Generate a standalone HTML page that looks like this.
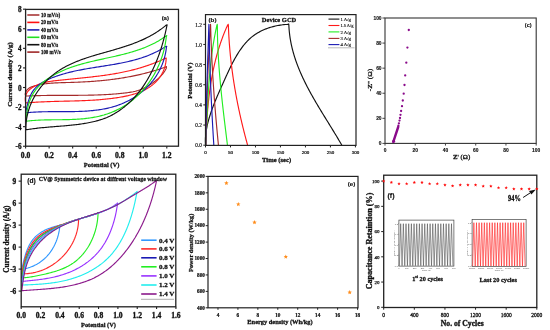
<!DOCTYPE html>
<html><head><meta charset="utf-8"><style>
html,body{margin:0;padding:0;background:#fff;width:550px;height:330px;overflow:hidden}
svg{display:block}
</style></head><body>
<svg width="550" height="330" viewBox="0 0 550 330">
<rect width="550" height="330" fill="#fff"/>
<rect x="385" y="18" width="151.2" height="125.4" fill="none" stroke="#333" stroke-width="1.1"/>
<line x1="385" y1="143.4" x2="385" y2="145.6" stroke="#333" stroke-width="0.9"/>
<text x="385" y="151.7" font-size="4.9" text-anchor="middle" font-family="'Liberation Sans',sans-serif" font-weight="bold" fill="#111" stroke="#111" stroke-width="0.13" stroke-linejoin="round">0</text>
<line x1="382.4" y1="143.4" x2="385" y2="143.4" stroke="#333" stroke-width="0.9"/>
<text x="381.6" y="145.1" font-size="4.9" text-anchor="end" font-family="'Liberation Sans',sans-serif" font-weight="bold" fill="#111" stroke="#111" stroke-width="0.13" stroke-linejoin="round">0</text>
<line x1="415.24" y1="143.4" x2="415.24" y2="145.6" stroke="#333" stroke-width="0.9"/>
<text x="415.24" y="151.7" font-size="4.9" text-anchor="middle" font-family="'Liberation Sans',sans-serif" font-weight="bold" fill="#111" stroke="#111" stroke-width="0.13" stroke-linejoin="round">20</text>
<line x1="382.4" y1="118.32" x2="385" y2="118.32" stroke="#333" stroke-width="0.9"/>
<text x="381.6" y="120.02" font-size="4.9" text-anchor="end" font-family="'Liberation Sans',sans-serif" font-weight="bold" fill="#111" stroke="#111" stroke-width="0.13" stroke-linejoin="round">20</text>
<line x1="445.48" y1="143.4" x2="445.48" y2="145.6" stroke="#333" stroke-width="0.9"/>
<text x="445.48" y="151.7" font-size="4.9" text-anchor="middle" font-family="'Liberation Sans',sans-serif" font-weight="bold" fill="#111" stroke="#111" stroke-width="0.13" stroke-linejoin="round">40</text>
<line x1="382.4" y1="93.24" x2="385" y2="93.24" stroke="#333" stroke-width="0.9"/>
<text x="381.6" y="94.94" font-size="4.9" text-anchor="end" font-family="'Liberation Sans',sans-serif" font-weight="bold" fill="#111" stroke="#111" stroke-width="0.13" stroke-linejoin="round">40</text>
<line x1="475.72" y1="143.4" x2="475.72" y2="145.6" stroke="#333" stroke-width="0.9"/>
<text x="475.72" y="151.7" font-size="4.9" text-anchor="middle" font-family="'Liberation Sans',sans-serif" font-weight="bold" fill="#111" stroke="#111" stroke-width="0.13" stroke-linejoin="round">60</text>
<line x1="382.4" y1="68.16" x2="385" y2="68.16" stroke="#333" stroke-width="0.9"/>
<text x="381.6" y="69.86" font-size="4.9" text-anchor="end" font-family="'Liberation Sans',sans-serif" font-weight="bold" fill="#111" stroke="#111" stroke-width="0.13" stroke-linejoin="round">60</text>
<line x1="505.96" y1="143.4" x2="505.96" y2="145.6" stroke="#333" stroke-width="0.9"/>
<text x="505.96" y="151.7" font-size="4.9" text-anchor="middle" font-family="'Liberation Sans',sans-serif" font-weight="bold" fill="#111" stroke="#111" stroke-width="0.13" stroke-linejoin="round">80</text>
<line x1="382.4" y1="43.08" x2="385" y2="43.08" stroke="#333" stroke-width="0.9"/>
<text x="381.6" y="44.78" font-size="4.9" text-anchor="end" font-family="'Liberation Sans',sans-serif" font-weight="bold" fill="#111" stroke="#111" stroke-width="0.13" stroke-linejoin="round">80</text>
<line x1="536.2" y1="143.4" x2="536.2" y2="145.6" stroke="#333" stroke-width="0.9"/>
<text x="536.2" y="151.7" font-size="4.9" text-anchor="middle" font-family="'Liberation Sans',sans-serif" font-weight="bold" fill="#111" stroke="#111" stroke-width="0.13" stroke-linejoin="round">100</text>
<line x1="382.4" y1="18" x2="385" y2="18" stroke="#333" stroke-width="0.9"/>
<text x="381.6" y="19.7" font-size="4.9" text-anchor="end" font-family="'Liberation Sans',sans-serif" font-weight="bold" fill="#111" stroke="#111" stroke-width="0.13" stroke-linejoin="round">100</text>
<text x="0" y="0" font-size="7.4" text-anchor="middle" font-family="'Liberation Serif',serif" font-weight="normal" fill="#111" transform="translate(371.7 80) rotate(-90) scale(1 0.78)" stroke="#111" stroke-width="0.32" stroke-linejoin="round">-<tspan font-weight="bold">Z</tspan>'' (&#937;)</text>
<text x="461.6" y="159.4" font-size="6.9" text-anchor="middle" font-family="'Liberation Serif',serif" font-weight="normal" fill="#111" stroke="#111" stroke-width="0.3" stroke-linejoin="round"><tspan font-weight="bold">Z</tspan>' (&#937;)</text>
<text x="528.2" y="27" font-size="5.6" text-anchor="middle" font-family="'Liberation Sans',sans-serif" font-weight="bold" fill="#111" stroke="#111" stroke-width="0.14" stroke-linejoin="round">(c)</text>
<circle cx="408.8" cy="30" r="1.15" fill="#8a0a8a"/>
<circle cx="407.4" cy="47.6" r="1.15" fill="#8a0a8a"/>
<circle cx="406.3" cy="62.7" r="1.15" fill="#8a0a8a"/>
<circle cx="405.2" cy="75.4" r="1.15" fill="#8a0a8a"/>
<circle cx="404.5" cy="85" r="1.15" fill="#8a0a8a"/>
<circle cx="403.7" cy="93.7" r="1.15" fill="#8a0a8a"/>
<circle cx="402.8" cy="100.5" r="1.15" fill="#8a0a8a"/>
<circle cx="402" cy="106.2" r="1.15" fill="#8a0a8a"/>
<circle cx="401.1" cy="111" r="1.15" fill="#8a0a8a"/>
<circle cx="400.5" cy="114.8" r="1.15" fill="#8a0a8a"/>
<circle cx="400" cy="118" r="1.15" fill="#8a0a8a"/>
<circle cx="399.5" cy="120.6" r="1.15" fill="#8a0a8a"/>
<circle cx="398.9" cy="123.3" r="1.15" fill="#8a0a8a"/>
<circle cx="398.4" cy="125.7" r="1.15" fill="#8a0a8a"/>
<path d="M398.2,127 L393.3,141.8" stroke="#8a0a8a" stroke-width="2.4" stroke-linecap="round"/>
<circle cx="393.6" cy="141.2" r="1.5" fill="#8a0a8a"/>
<path d="M25.6,95.8 L25.2,94.14 L25.48,92.89 L25.89,91.76 L26.43,90.77 L27.08,89.89 L27.83,89.11 L28.67,88.43 L29.59,87.83 L30.58,87.31 L31.62,86.85 L32.71,86.45 L33.83,86.1 L34.97,85.77 L36.12,85.48 L37.28,85.2 L38.45,84.95 L39.62,84.71 L40.8,84.49 L41.98,84.28 L43.17,84.1 L44.36,83.92 L45.56,83.77 L46.76,83.62 L47.96,83.49 L49.17,83.38 L50.38,83.27 L51.59,83.17 L52.81,83.09 L54.03,83.01 L55.25,82.94 L56.47,82.88 L57.69,82.82 L58.92,82.77 L60.15,82.73 L61.38,82.69 L62.61,82.65 L63.84,82.62 L65.07,82.58 L66.3,82.55 L67.53,82.52 L68.76,82.49 L69.98,82.45 L71.21,82.42 L72.44,82.38 L73.66,82.34 L74.89,82.3 L76.11,82.25 L77.33,82.2 L78.55,82.15 L79.77,82.1 L80.99,82.04 L82.21,81.98 L83.43,81.92 L84.64,81.85 L85.86,81.79 L87.07,81.72 L88.29,81.64 L89.5,81.56 L90.71,81.48 L91.92,81.4 L93.13,81.31 L94.34,81.22 L95.55,81.13 L96.75,81.03 L97.96,80.93 L99.16,80.82 L100.37,80.71 L101.57,80.6 L102.77,80.48 L103.97,80.36 L105.17,80.24 L106.37,80.11 L107.57,79.97 L108.77,79.84 L109.97,79.7 L111.16,79.55 L112.36,79.4 L113.55,79.25 L114.74,79.09 L115.94,78.92 L117.13,78.75 L118.32,78.58 L119.51,78.4 L120.7,78.22 L121.89,78.03 L123.08,77.84 L124.26,77.64 L125.45,77.44 L126.63,77.23 L127.82,77.02 L129,76.8 L130.19,76.58 L131.37,76.35 L132.55,76.12 L133.73,75.88 L134.91,75.63 L136.09,75.38 L137.27,75.13 L138.45,74.86 L139.62,74.6 L140.8,74.32 L141.98,74.04 L143.15,73.76 L144.33,73.46 L145.5,73.17 L146.67,72.86 L147.85,72.55 L149.02,72.23 L150.19,71.91 L151.36,71.58 L152.53,71.25 L153.7,70.9 L154.87,70.55 L156.04,70.2 L157.2,69.84 L158.37,69.47 L159.54,69.09 L160.7,68.71 L161.87,68.32 L163.03,67.92 L164.2,67.52 L165.36,67.1 L166.4,66.6 L166.36,67.94 L165.89,68.97 L165.37,69.98 L164.79,70.97 L164.16,71.93 L163.49,72.88 L162.78,73.81 L162.03,74.71 L161.24,75.6 L160.41,76.47 L159.56,77.33 L158.68,78.16 L157.77,78.98 L156.83,79.77 L155.88,80.55 L154.9,81.31 L153.9,82.05 L152.89,82.78 L151.87,83.48 L150.83,84.16 L149.78,84.83 L148.73,85.47 L147.67,86.1 L146.6,86.7 L145.52,87.28 L144.43,87.83 L143.34,88.36 L142.24,88.86 L141.13,89.33 L140.01,89.77 L138.88,90.17 L137.75,90.55 L136.6,90.89 L135.45,91.2 L134.29,91.48 L133.13,91.74 L131.95,91.97 L130.78,92.18 L129.6,92.37 L128.41,92.54 L127.22,92.71 L126.03,92.86 L124.84,93 L123.65,93.14 L122.45,93.27 L121.26,93.4 L120.06,93.52 L118.86,93.63 L117.66,93.75 L116.46,93.85 L115.26,93.95 L114.06,94.05 L112.86,94.14 L111.65,94.23 L110.45,94.31 L109.25,94.39 L108.04,94.46 L106.83,94.53 L105.63,94.6 L104.42,94.66 L103.21,94.72 L102,94.77 L100.79,94.83 L99.58,94.87 L98.37,94.92 L97.16,94.96 L95.95,95 L94.73,95.04 L93.52,95.07 L92.31,95.1 L91.09,95.13 L89.88,95.15 L88.66,95.18 L87.45,95.2 L86.23,95.22 L85.02,95.24 L83.8,95.25 L82.59,95.26 L81.37,95.28 L80.15,95.29 L78.94,95.3 L77.72,95.3 L76.5,95.31 L75.29,95.32 L74.07,95.32 L72.85,95.33 L71.64,95.33 L70.42,95.33 L69.2,95.33 L67.99,95.34 L66.77,95.34 L65.55,95.34 L64.34,95.34 L63.12,95.34 L61.9,95.35 L60.69,95.35 L59.47,95.35 L58.26,95.36 L57.04,95.36 L55.83,95.37 L54.62,95.37 L53.4,95.38 L52.19,95.39 L50.98,95.4 L49.76,95.41 L48.55,95.42 L47.34,95.44 L46.13,95.45 L44.92,95.47 L43.71,95.49 L42.5,95.51 L41.29,95.54 L40.09,95.57 L38.88,95.6 L37.67,95.63 L36.47,95.66 L35.26,95.7 L34.06,95.74 L32.86,95.78 L31.65,95.83 L30.45,95.88 L29.25,95.93 L28.05,95.99 L26.86,96.05 L25.6,95.8" fill="none" stroke="#a52a2a" stroke-width="1.15" stroke-linejoin="round" stroke-linecap="round"/>
<path d="M25.6,102.5 L25.43,101.2 L25.27,99.83 L25.25,98.51 L25.36,97.24 L25.59,96.03 L25.94,94.88 L26.39,93.78 L26.95,92.73 L27.6,91.75 L28.33,90.84 L29.15,89.98 L30.04,89.19 L30.98,88.46 L31.96,87.77 L32.96,87.13 L33.99,86.53 L35.03,85.96 L36.09,85.44 L37.16,84.95 L38.25,84.5 L39.36,84.08 L40.48,83.68 L41.61,83.32 L42.76,82.99 L43.92,82.68 L45.08,82.39 L46.26,82.13 L47.44,81.89 L48.64,81.66 L49.84,81.45 L51.05,81.26 L52.26,81.09 L53.48,80.92 L54.7,80.77 L55.92,80.62 L57.15,80.48 L58.37,80.35 L59.6,80.22 L60.83,80.09 L62.06,79.96 L63.28,79.84 L64.51,79.71 L65.73,79.59 L66.96,79.46 L68.18,79.34 L69.4,79.22 L70.62,79.1 L71.85,78.98 L73.07,78.86 L74.29,78.74 L75.51,78.62 L76.72,78.5 L77.94,78.37 L79.16,78.25 L80.37,78.13 L81.59,78.01 L82.8,77.88 L84.02,77.76 L85.23,77.63 L86.44,77.5 L87.65,77.37 L88.86,77.24 L90.07,77.1 L91.28,76.97 L92.49,76.83 L93.69,76.69 L94.9,76.55 L96.11,76.4 L97.31,76.26 L98.51,76.11 L99.71,75.95 L100.91,75.8 L102.11,75.64 L103.31,75.47 L104.51,75.31 L105.71,75.14 L106.9,74.96 L108.1,74.78 L109.29,74.6 L110.48,74.42 L111.68,74.22 L112.87,74.03 L114.06,73.83 L115.24,73.63 L116.43,73.42 L117.62,73.2 L118.8,72.98 L119.99,72.76 L121.17,72.53 L122.35,72.29 L123.53,72.05 L124.71,71.8 L125.89,71.55 L127.06,71.29 L128.24,71.02 L129.41,70.75 L130.59,70.47 L131.76,70.18 L132.93,69.89 L134.1,69.59 L135.26,69.28 L136.43,68.97 L137.6,68.65 L138.76,68.32 L139.92,67.98 L141.08,67.63 L142.24,67.28 L143.4,66.92 L144.56,66.55 L145.71,66.17 L146.87,65.79 L148.02,65.39 L149.17,64.99 L150.32,64.57 L151.47,64.15 L152.62,63.72 L153.76,63.28 L154.91,62.83 L156.05,62.37 L157.19,61.9 L158.33,61.42 L159.47,60.93 L160.61,60.43 L161.74,59.92 L162.88,59.4 L164.01,58.87 L165.14,58.33 L166.2,58 L166.14,59.02 L166.06,60.33 L165.93,61.61 L165.75,62.88 L165.52,64.13 L165.25,65.36 L164.94,66.57 L164.58,67.76 L164.18,68.92 L163.73,70.07 L163.25,71.2 L162.74,72.3 L162.18,73.38 L161.59,74.44 L160.97,75.47 L160.31,76.48 L159.62,77.47 L158.9,78.43 L158.15,79.36 L157.37,80.27 L156.57,81.16 L155.74,82.01 L154.88,82.84 L154.01,83.65 L153.11,84.42 L152.19,85.17 L151.25,85.89 L150.29,86.57 L149.32,87.24 L148.32,87.87 L147.31,88.48 L146.29,89.07 L145.24,89.63 L144.19,90.16 L143.12,90.68 L142.04,91.17 L140.94,91.64 L139.83,92.09 L138.71,92.52 L137.58,92.93 L136.44,93.32 L135.29,93.69 L134.13,94.05 L132.97,94.39 L131.8,94.71 L130.62,95.02 L129.43,95.31 L128.24,95.6 L127.05,95.86 L125.85,96.12 L124.65,96.37 L123.44,96.6 L122.23,96.83 L121.03,97.04 L119.82,97.25 L118.61,97.45 L117.4,97.64 L116.2,97.82 L114.99,98 L113.78,98.17 L112.57,98.34 L111.37,98.49 L110.16,98.64 L108.95,98.79 L107.75,98.92 L106.54,99.05 L105.33,99.18 L104.13,99.3 L102.92,99.42 L101.71,99.52 L100.51,99.63 L99.3,99.73 L98.09,99.82 L96.89,99.91 L95.68,100 L94.48,100.08 L93.27,100.15 L92.06,100.23 L90.86,100.29 L89.65,100.36 L88.45,100.42 L87.24,100.48 L86.03,100.53 L84.83,100.59 L83.62,100.64 L82.42,100.68 L81.21,100.73 L80,100.77 L78.8,100.81 L77.59,100.85 L76.38,100.88 L75.18,100.92 L73.97,100.95 L72.76,100.98 L71.56,101.01 L70.35,101.04 L69.14,101.07 L67.94,101.1 L66.73,101.13 L65.52,101.16 L64.32,101.18 L63.11,101.21 L61.9,101.24 L60.69,101.27 L59.49,101.3 L58.28,101.33 L57.07,101.36 L55.86,101.39 L54.65,101.42 L53.44,101.46 L52.23,101.5 L51.03,101.53 L49.82,101.57 L48.61,101.62 L47.4,101.66 L46.19,101.71 L44.98,101.76 L43.77,101.81 L42.56,101.87 L41.35,101.92 L40.14,101.99 L38.92,102.05 L37.71,102.12 L36.5,102.19 L35.29,102.27 L34.08,102.35 L32.86,102.44 L31.65,102.53 L30.44,102.62 L29.23,102.72 L28.01,102.83 L26.8,102.94 L25.6,102.5" fill="none" stroke="#ff1a1a" stroke-width="1.15" stroke-linejoin="round" stroke-linecap="round"/>
<path d="M25.6,112.6 L25.88,111.44 L26.14,110.29 L26.4,109.11 L26.66,107.93 L26.94,106.74 L27.22,105.54 L27.52,104.34 L27.84,103.14 L28.17,101.94 L28.53,100.75 L28.9,99.57 L29.31,98.41 L29.74,97.26 L30.2,96.13 L30.69,95.02 L31.22,93.94 L31.79,92.89 L32.4,91.87 L33.04,90.88 L33.74,89.94 L34.47,89.03 L35.24,88.15 L36.06,87.31 L36.9,86.5 L37.79,85.72 L38.7,84.98 L39.65,84.26 L40.62,83.57 L41.62,82.91 L42.64,82.27 L43.69,81.66 L44.76,81.07 L45.84,80.51 L46.95,79.97 L48.07,79.44 L49.2,78.94 L50.34,78.46 L51.49,77.99 L52.65,77.53 L53.82,77.1 L54.99,76.67 L56.16,76.26 L57.33,75.86 L58.5,75.47 L59.68,75.09 L60.85,74.73 L62.03,74.37 L63.2,74.02 L64.38,73.69 L65.56,73.36 L66.74,73.04 L67.92,72.73 L69.1,72.43 L70.28,72.14 L71.46,71.86 L72.65,71.58 L73.83,71.31 L75.01,71.05 L76.2,70.8 L77.39,70.55 L78.57,70.31 L79.76,70.07 L80.95,69.84 L82.13,69.61 L83.32,69.39 L84.51,69.17 L85.7,68.96 L86.89,68.75 L88.08,68.55 L89.27,68.35 L90.46,68.15 L91.65,67.95 L92.84,67.76 L94.04,67.57 L95.23,67.38 L96.42,67.19 L97.61,67 L98.81,66.81 L100,66.63 L101.19,66.44 L102.38,66.25 L103.58,66.06 L104.77,65.88 L105.96,65.69 L107.16,65.5 L108.35,65.3 L109.54,65.11 L110.73,64.91 L111.93,64.71 L113.12,64.51 L114.31,64.31 L115.5,64.1 L116.7,63.88 L117.89,63.66 L119.08,63.44 L120.27,63.21 L121.46,62.98 L122.65,62.74 L123.83,62.5 L125.02,62.25 L126.2,61.99 L127.39,61.73 L128.57,61.46 L129.75,61.18 L130.92,60.9 L132.1,60.6 L133.27,60.3 L134.44,59.99 L135.61,59.67 L136.78,59.34 L137.94,59.01 L139.1,58.66 L140.25,58.3 L141.4,57.93 L142.55,57.55 L143.7,57.16 L144.84,56.76 L145.98,56.35 L147.11,55.92 L148.24,55.48 L149.36,55.03 L150.48,54.57 L151.6,54.09 L152.71,53.6 L153.81,53.1 L154.91,52.58 L156.01,52.04 L157.1,51.5 L158.18,50.93 L159.26,50.36 L160.33,49.76 L161.4,49.15 L162.46,48.53 L163.51,47.88 L164.56,47.22 L165.6,46.54 L166.8,46.3 L166.4,47.42 L166.25,48.65 L166.09,49.87 L165.9,51.08 L165.69,52.29 L165.45,53.49 L165.2,54.69 L164.92,55.88 L164.62,57.06 L164.3,58.23 L163.95,59.4 L163.59,60.56 L163.2,61.71 L162.8,62.86 L162.37,63.99 L161.92,65.12 L161.45,66.24 L160.96,67.34 L160.45,68.44 L159.92,69.53 L159.37,70.61 L158.8,71.68 L158.2,72.73 L157.59,73.78 L156.96,74.81 L156.31,75.84 L155.64,76.85 L154.95,77.85 L154.24,78.83 L153.51,79.81 L152.77,80.77 L152.01,81.72 L151.23,82.66 L150.43,83.58 L149.62,84.49 L148.79,85.38 L147.94,86.27 L147.09,87.13 L146.21,87.99 L145.32,88.83 L144.42,89.65 L143.5,90.47 L142.57,91.26 L141.63,92.04 L140.68,92.81 L139.71,93.56 L138.73,94.29 L137.74,95.01 L136.74,95.72 L135.73,96.4 L134.71,97.08 L133.68,97.73 L132.65,98.37 L131.6,98.99 L130.54,99.59 L129.48,100.18 L128.41,100.75 L127.33,101.3 L126.24,101.83 L125.15,102.35 L124.06,102.85 L122.95,103.32 L121.85,103.79 L120.73,104.23 L119.61,104.66 L118.49,105.07 L117.36,105.46 L116.22,105.84 L115.09,106.2 L113.94,106.55 L112.79,106.88 L111.64,107.2 L110.48,107.51 L109.32,107.79 L108.16,108.07 L106.99,108.33 L105.81,108.58 L104.63,108.82 L103.45,109.04 L102.27,109.25 L101.08,109.45 L99.89,109.64 L98.7,109.82 L97.5,109.99 L96.3,110.14 L95.1,110.29 L93.89,110.43 L92.68,110.56 L91.47,110.67 L90.26,110.78 L89.04,110.89 L87.82,110.98 L86.61,111.06 L85.38,111.14 L84.16,111.21 L82.94,111.28 L81.71,111.34 L80.48,111.39 L79.26,111.43 L78.03,111.48 L76.8,111.51 L75.56,111.54 L74.33,111.57 L73.1,111.59 L71.87,111.61 L70.63,111.63 L69.4,111.64 L68.16,111.65 L66.93,111.65 L65.69,111.66 L64.46,111.66 L63.23,111.66 L61.99,111.66 L60.76,111.66 L59.53,111.66 L58.3,111.66 L57.07,111.66 L55.84,111.66 L54.61,111.66 L53.38,111.67 L52.16,111.67 L50.93,111.68 L49.71,111.68 L48.49,111.69 L47.27,111.71 L46.06,111.72 L44.84,111.74 L43.63,111.77 L42.42,111.8 L41.21,111.83 L40.01,111.87 L38.81,111.91 L37.61,111.96 L36.41,112.01 L35.22,112.07 L34.03,112.14 L32.84,112.21 L31.66,112.29 L30.48,112.38 L29.3,112.48 L28.13,112.58 L26.96,112.7 L25.6,112.6" fill="none" stroke="#1a1ab4" stroke-width="1.15" stroke-linejoin="round" stroke-linecap="round"/>
<path d="M25.6,121 L26.25,120.05 L26.32,118.78 L26.4,117.51 L26.5,116.25 L26.62,114.99 L26.77,113.74 L26.93,112.49 L27.12,111.25 L27.32,110.02 L27.55,108.8 L27.81,107.58 L28.09,106.38 L28.39,105.19 L28.72,104.01 L29.07,102.85 L29.45,101.7 L29.86,100.56 L30.29,99.44 L30.75,98.33 L31.24,97.24 L31.76,96.17 L32.3,95.12 L32.88,94.08 L33.49,93.07 L34.12,92.07 L34.79,91.1 L35.49,90.15 L36.21,89.22 L36.96,88.3 L37.74,87.41 L38.54,86.54 L39.37,85.68 L40.22,84.84 L41.09,84.03 L41.98,83.23 L42.9,82.45 L43.83,81.68 L44.78,80.94 L45.74,80.21 L46.72,79.5 L47.72,78.8 L48.73,78.12 L49.75,77.46 L50.78,76.81 L51.82,76.18 L52.88,75.56 L53.94,74.96 L55.01,74.38 L56.08,73.81 L57.17,73.25 L58.25,72.7 L59.34,72.17 L60.44,71.66 L61.54,71.15 L62.65,70.66 L63.76,70.18 L64.88,69.72 L66,69.26 L67.12,68.82 L68.25,68.39 L69.39,67.96 L70.52,67.55 L71.66,67.15 L72.81,66.76 L73.96,66.37 L75.11,66 L76.26,65.63 L77.42,65.27 L78.58,64.92 L79.75,64.58 L80.91,64.25 L82.08,63.92 L83.26,63.6 L84.43,63.28 L85.61,62.97 L86.79,62.67 L87.97,62.37 L89.15,62.08 L90.33,61.79 L91.52,61.51 L92.71,61.22 L93.9,60.95 L95.09,60.67 L96.28,60.4 L97.47,60.13 L98.66,59.87 L99.85,59.6 L101.05,59.34 L102.24,59.08 L103.44,58.82 L104.63,58.56 L105.83,58.3 L107.02,58.04 L108.22,57.78 L109.41,57.52 L110.6,57.26 L111.8,57 L112.99,56.73 L114.18,56.46 L115.37,56.2 L116.56,55.92 L117.75,55.65 L118.93,55.37 L120.12,55.09 L121.3,54.8 L122.48,54.51 L123.66,54.21 L124.84,53.91 L126.01,53.61 L127.19,53.3 L128.36,52.98 L129.53,52.65 L130.69,52.32 L131.85,51.98 L133.01,51.64 L134.17,51.28 L135.32,50.92 L136.47,50.55 L137.61,50.17 L138.76,49.79 L139.9,49.39 L141.03,48.98 L142.16,48.57 L143.29,48.14 L144.41,47.7 L145.53,47.25 L146.64,46.79 L147.75,46.32 L148.85,45.83 L149.95,45.34 L151.04,44.83 L152.13,44.31 L153.21,43.77 L154.29,43.22 L155.36,42.66 L156.43,42.08 L157.49,41.48 L158.54,40.88 L159.59,40.25 L160.63,39.61 L161.66,38.96 L162.69,38.29 L163.71,37.6 L164.73,36.89 L165.74,36.17 L166.8,35.6 L166.32,36.8 L166.18,37.98 L166.03,39.17 L165.86,40.35 L165.68,41.53 L165.49,42.72 L165.28,43.89 L165.05,45.07 L164.81,46.25 L164.56,47.42 L164.29,48.59 L164.01,49.76 L163.71,50.93 L163.4,52.09 L163.07,53.25 L162.73,54.41 L162.37,55.56 L162,56.71 L161.62,57.86 L161.22,59 L160.81,60.14 L160.38,61.27 L159.94,62.39 L159.48,63.52 L159.01,64.63 L158.53,65.75 L158.03,66.85 L157.52,67.95 L156.99,69.04 L156.45,70.13 L155.9,71.21 L155.33,72.29 L154.75,73.35 L154.15,74.41 L153.54,75.47 L152.92,76.51 L152.28,77.55 L151.63,78.58 L150.97,79.6 L150.29,80.61 L149.6,81.62 L148.9,82.61 L148.18,83.59 L147.45,84.57 L146.71,85.54 L145.96,86.49 L145.2,87.44 L144.42,88.37 L143.63,89.3 L142.83,90.21 L142.02,91.11 L141.19,92 L140.35,92.88 L139.51,93.75 L138.65,94.6 L137.78,95.44 L136.9,96.27 L136.01,97.09 L135.11,97.89 L134.2,98.68 L133.27,99.46 L132.34,100.22 L131.4,100.97 L130.44,101.71 L129.48,102.42 L128.51,103.13 L127.53,103.82 L126.54,104.49 L125.54,105.15 L124.53,105.79 L123.51,106.42 L122.48,107.03 L121.44,107.63 L120.4,108.21 L119.35,108.77 L118.29,109.32 L117.22,109.85 L116.14,110.37 L115.06,110.87 L113.97,111.35 L112.87,111.82 L111.77,112.27 L110.66,112.71 L109.54,113.13 L108.42,113.53 L107.29,113.92 L106.16,114.29 L105.02,114.64 L103.87,114.99 L102.72,115.31 L101.56,115.62 L100.4,115.92 L99.24,116.2 L98.07,116.46 L96.9,116.72 L95.72,116.96 L94.54,117.18 L93.35,117.4 L92.16,117.6 L90.97,117.79 L89.77,117.97 L88.58,118.14 L87.38,118.29 L86.17,118.44 L84.97,118.57 L83.76,118.7 L82.55,118.81 L81.34,118.92 L80.13,119.01 L78.91,119.1 L77.7,119.18 L76.48,119.25 L75.26,119.32 L74.04,119.38 L72.82,119.43 L71.6,119.48 L70.38,119.52 L69.16,119.56 L67.93,119.59 L66.71,119.62 L65.49,119.64 L64.26,119.67 L63.04,119.68 L61.81,119.7 L60.59,119.72 L59.37,119.73 L58.15,119.74 L56.92,119.75 L55.7,119.77 L54.48,119.78 L53.26,119.79 L52.04,119.8 L50.82,119.82 L49.61,119.84 L48.39,119.86 L47.18,119.88 L45.97,119.91 L44.76,119.94 L43.55,119.97 L42.34,120.01 L41.14,120.05 L39.94,120.1 L38.74,120.16 L37.54,120.22 L36.35,120.29 L35.16,120.37 L33.97,120.45 L32.78,120.54 L31.6,120.64 L30.42,120.75 L29.25,120.87 L28.07,121 L26.91,121.14 L25.6,121" fill="none" stroke="#1ee61e" stroke-width="1.15" stroke-linejoin="round" stroke-linecap="round"/>
<path d="M25.6,129.6 L25.79,128.77 L25.81,127.48 L25.86,126.2 L25.93,124.93 L26.03,123.67 L26.15,122.41 L26.29,121.16 L26.46,119.92 L26.65,118.69 L26.87,117.46 L27.1,116.24 L27.36,115.03 L27.64,113.83 L27.94,112.64 L28.26,111.45 L28.61,110.27 L28.97,109.11 L29.36,107.95 L29.76,106.8 L30.19,105.66 L30.63,104.53 L31.1,103.41 L31.58,102.3 L32.08,101.2 L32.61,100.11 L33.15,99.03 L33.7,97.96 L34.28,96.9 L34.87,95.85 L35.49,94.81 L36.11,93.79 L36.76,92.77 L37.42,91.77 L38.1,90.78 L38.79,89.8 L39.5,88.83 L40.23,87.87 L40.97,86.93 L41.72,86 L42.49,85.08 L43.27,84.17 L44.07,83.28 L44.88,82.4 L45.71,81.53 L46.55,80.68 L47.4,79.84 L48.26,79.01 L49.14,78.2 L50.03,77.4 L50.93,76.61 L51.84,75.84 L52.77,75.09 L53.7,74.35 L54.65,73.62 L55.6,72.91 L56.57,72.21 L57.55,71.53 L58.53,70.86 L59.53,70.21 L60.53,69.58 L61.55,68.95 L62.57,68.35 L63.6,67.75 L64.64,67.17 L65.69,66.6 L66.74,66.05 L67.81,65.5 L68.88,64.97 L69.96,64.45 L71.04,63.94 L72.13,63.45 L73.23,62.96 L74.34,62.48 L75.45,62.02 L76.56,61.56 L77.68,61.11 L78.81,60.67 L79.94,60.24 L81.08,59.82 L82.22,59.4 L83.36,59 L84.51,58.59 L85.67,58.2 L86.82,57.81 L87.99,57.43 L89.15,57.05 L90.32,56.68 L91.48,56.32 L92.66,55.96 L93.83,55.6 L95.01,55.25 L96.18,54.9 L97.36,54.55 L98.54,54.21 L99.72,53.87 L100.91,53.53 L102.09,53.19 L103.27,52.85 L104.45,52.52 L105.64,52.19 L106.82,51.85 L108,51.52 L109.18,51.19 L110.36,50.85 L111.54,50.52 L112.72,50.18 L113.89,49.84 L115.07,49.5 L116.24,49.16 L117.41,48.81 L118.57,48.46 L119.74,48.11 L120.9,47.75 L122.05,47.4 L123.21,47.03 L124.36,46.66 L125.51,46.29 L126.66,45.91 L127.8,45.53 L128.94,45.14 L130.08,44.74 L131.21,44.34 L132.34,43.93 L133.46,43.51 L134.59,43.08 L135.7,42.65 L136.82,42.21 L137.93,41.76 L139.03,41.3 L140.13,40.84 L141.23,40.36 L142.32,39.88 L143.41,39.38 L144.49,38.87 L145.57,38.36 L146.64,37.83 L147.71,37.29 L148.77,36.74 L149.83,36.18 L150.89,35.6 L151.93,35.01 L152.97,34.41 L154.01,33.8 L155.04,33.17 L156.07,32.53 L157.09,31.88 L158.1,31.21 L159.11,30.52 L160.11,29.82 L161.1,29.11 L162.09,28.38 L163.07,27.63 L164.05,26.87 L165.02,26.09 L165.98,25.29 L167.1,24.8 L166.82,26.12 L166.59,27.26 L166.35,28.42 L166.1,29.57 L165.85,30.73 L165.59,31.88 L165.32,33.04 L165.05,34.2 L164.77,35.36 L164.48,36.52 L164.18,37.69 L163.88,38.85 L163.57,40.01 L163.25,41.18 L162.93,42.34 L162.59,43.51 L162.25,44.67 L161.9,45.83 L161.55,47 L161.18,48.16 L160.81,49.32 L160.43,50.47 L160.05,51.63 L159.65,52.79 L159.25,53.94 L158.83,55.09 L158.41,56.24 L157.98,57.38 L157.55,58.53 L157.1,59.67 L156.64,60.8 L156.18,61.94 L155.71,63.06 L155.23,64.19 L154.74,65.31 L154.24,66.43 L153.73,67.54 L153.21,68.65 L152.69,69.75 L152.15,70.85 L151.61,71.95 L151.05,73.03 L150.49,74.12 L149.92,75.19 L149.34,76.26 L148.74,77.33 L148.14,78.39 L147.53,79.44 L146.91,80.48 L146.28,81.52 L145.64,82.55 L144.98,83.57 L144.32,84.59 L143.65,85.6 L142.97,86.6 L142.28,87.59 L141.58,88.57 L140.86,89.55 L140.14,90.51 L139.4,91.47 L138.66,92.42 L137.9,93.36 L137.14,94.28 L136.36,95.2 L135.57,96.11 L134.77,97.01 L133.96,97.9 L133.14,98.78 L132.31,99.64 L131.47,100.5 L130.61,101.35 L129.75,102.18 L128.87,103 L127.98,103.81 L127.08,104.61 L126.16,105.4 L125.24,106.17 L124.31,106.93 L123.36,107.67 L122.4,108.41 L121.44,109.13 L120.46,109.83 L119.47,110.52 L118.47,111.19 L117.47,111.85 L116.45,112.49 L115.42,113.11 L114.38,113.72 L113.34,114.31 L112.28,114.88 L111.22,115.43 L110.14,115.97 L109.06,116.48 L107.97,116.98 L106.87,117.46 L105.77,117.91 L104.65,118.35 L103.53,118.77 L102.4,119.17 L101.26,119.55 L100.12,119.92 L98.97,120.27 L97.82,120.6 L96.66,120.92 L95.49,121.23 L94.32,121.52 L93.15,121.8 L91.97,122.06 L90.79,122.31 L89.6,122.55 L88.41,122.79 L87.22,123.01 L86.02,123.22 L84.83,123.42 L83.63,123.61 L82.43,123.8 L81.22,123.97 L80.02,124.14 L78.81,124.31 L77.61,124.46 L76.4,124.61 L75.19,124.76 L73.98,124.9 L72.77,125.03 L71.55,125.16 L70.34,125.28 L69.13,125.4 L67.91,125.52 L66.69,125.63 L65.48,125.74 L64.26,125.85 L63.04,125.95 L61.83,126.05 L60.61,126.15 L59.39,126.25 L58.17,126.35 L56.96,126.44 L55.74,126.54 L54.52,126.64 L53.31,126.73 L52.09,126.83 L50.88,126.93 L49.66,127.03 L48.45,127.13 L47.24,127.24 L46.03,127.34 L44.82,127.45 L43.61,127.57 L42.4,127.68 L41.19,127.8 L39.99,127.93 L38.79,128.05 L37.59,128.19 L36.39,128.33 L35.19,128.47 L33.99,128.62 L32.8,128.78 L31.61,128.95 L30.42,129.12 L29.23,129.29 L28.05,129.48 L26.87,129.68 L25.6,129.6" fill="none" stroke="#111111" stroke-width="1.15" stroke-linejoin="round" stroke-linecap="round"/>
<rect x="25.6" y="9.4" width="152.9" height="136.8" fill="none" stroke="#222" stroke-width="1.3"/>
<line x1="25.6" y1="146.2" x2="25.6" y2="148.5" stroke="#222" stroke-width="1.1"/>
<text x="25.6" y="157.7" font-size="7.6" text-anchor="middle" font-family="'Liberation Serif',serif" font-weight="bold" fill="#111" stroke="#111" stroke-width="0.33" stroke-linejoin="round">0.0</text>
<line x1="49.13" y1="146.2" x2="49.13" y2="148.5" stroke="#222" stroke-width="1.1"/>
<text x="49.13" y="157.7" font-size="7.6" text-anchor="middle" font-family="'Liberation Serif',serif" font-weight="bold" fill="#111" stroke="#111" stroke-width="0.33" stroke-linejoin="round">0.2</text>
<line x1="72.67" y1="146.2" x2="72.67" y2="148.5" stroke="#222" stroke-width="1.1"/>
<text x="72.67" y="157.7" font-size="7.6" text-anchor="middle" font-family="'Liberation Serif',serif" font-weight="bold" fill="#111" stroke="#111" stroke-width="0.33" stroke-linejoin="round">0.4</text>
<line x1="96.2" y1="146.2" x2="96.2" y2="148.5" stroke="#222" stroke-width="1.1"/>
<text x="96.2" y="157.7" font-size="7.6" text-anchor="middle" font-family="'Liberation Serif',serif" font-weight="bold" fill="#111" stroke="#111" stroke-width="0.33" stroke-linejoin="round">0.6</text>
<line x1="119.74" y1="146.2" x2="119.74" y2="148.5" stroke="#222" stroke-width="1.1"/>
<text x="119.74" y="157.7" font-size="7.6" text-anchor="middle" font-family="'Liberation Serif',serif" font-weight="bold" fill="#111" stroke="#111" stroke-width="0.33" stroke-linejoin="round">0.8</text>
<line x1="143.27" y1="146.2" x2="143.27" y2="148.5" stroke="#222" stroke-width="1.1"/>
<text x="143.27" y="157.7" font-size="7.6" text-anchor="middle" font-family="'Liberation Serif',serif" font-weight="bold" fill="#111" stroke="#111" stroke-width="0.33" stroke-linejoin="round">1.0</text>
<line x1="166.8" y1="146.2" x2="166.8" y2="148.5" stroke="#222" stroke-width="1.1"/>
<text x="166.8" y="157.7" font-size="7.6" text-anchor="middle" font-family="'Liberation Serif',serif" font-weight="bold" fill="#111" stroke="#111" stroke-width="0.33" stroke-linejoin="round">1.2</text>
<line x1="23" y1="146.24" x2="25.6" y2="146.24" stroke="#222" stroke-width="1.1"/>
<text x="21.6" y="149.34" font-size="7.2" text-anchor="end" font-family="'Liberation Serif',serif" font-weight="bold" fill="#111" stroke="#111" stroke-width="0.31" stroke-linejoin="round">-6</text>
<line x1="23" y1="126.66" x2="25.6" y2="126.66" stroke="#222" stroke-width="1.1"/>
<text x="21.6" y="129.76" font-size="7.2" text-anchor="end" font-family="'Liberation Serif',serif" font-weight="bold" fill="#111" stroke="#111" stroke-width="0.31" stroke-linejoin="round">-4</text>
<line x1="23" y1="107.08" x2="25.6" y2="107.08" stroke="#222" stroke-width="1.1"/>
<text x="21.6" y="110.18" font-size="7.2" text-anchor="end" font-family="'Liberation Serif',serif" font-weight="bold" fill="#111" stroke="#111" stroke-width="0.31" stroke-linejoin="round">-2</text>
<line x1="23" y1="87.5" x2="25.6" y2="87.5" stroke="#222" stroke-width="1.1"/>
<text x="21.6" y="90.6" font-size="7.2" text-anchor="end" font-family="'Liberation Serif',serif" font-weight="bold" fill="#111" stroke="#111" stroke-width="0.31" stroke-linejoin="round">0</text>
<line x1="23" y1="67.92" x2="25.6" y2="67.92" stroke="#222" stroke-width="1.1"/>
<text x="21.6" y="71.02" font-size="7.2" text-anchor="end" font-family="'Liberation Serif',serif" font-weight="bold" fill="#111" stroke="#111" stroke-width="0.31" stroke-linejoin="round">2</text>
<line x1="23" y1="48.34" x2="25.6" y2="48.34" stroke="#222" stroke-width="1.1"/>
<text x="21.6" y="51.44" font-size="7.2" text-anchor="end" font-family="'Liberation Serif',serif" font-weight="bold" fill="#111" stroke="#111" stroke-width="0.31" stroke-linejoin="round">4</text>
<line x1="23" y1="28.76" x2="25.6" y2="28.76" stroke="#222" stroke-width="1.1"/>
<text x="21.6" y="31.86" font-size="7.2" text-anchor="end" font-family="'Liberation Serif',serif" font-weight="bold" fill="#111" stroke="#111" stroke-width="0.31" stroke-linejoin="round">6</text>
<line x1="23" y1="9.18" x2="25.6" y2="9.18" stroke="#222" stroke-width="1.1"/>
<text x="21.6" y="12.28" font-size="7.2" text-anchor="end" font-family="'Liberation Serif',serif" font-weight="bold" fill="#111" stroke="#111" stroke-width="0.31" stroke-linejoin="round">8</text>
<text x="0" y="0" font-size="7.0" text-anchor="middle" font-family="'Liberation Serif',serif" font-weight="bold" fill="#111" transform="translate(12 74.5) rotate(-90)" stroke="#111" stroke-width="0.3" stroke-linejoin="round">Current density (A/g)</text>
<text x="101.6" y="167.3" font-size="6.5" text-anchor="middle" font-family="'Liberation Serif',serif" font-weight="bold" fill="#111" stroke="#111" stroke-width="0.28" stroke-linejoin="round">Potential (V)</text>
<line x1="27.3" y1="15" x2="39.4" y2="15" stroke="#a83838" stroke-width="1.6"/>
<text x="40.9" y="17" font-size="6.0" text-anchor="start" font-family="'Liberation Serif',serif" font-weight="bold" fill="#111" textLength="19.3" lengthAdjust="spacingAndGlyphs" stroke="#111" stroke-width="0.26" stroke-linejoin="round">10 mV/s)</text>
<line x1="27.3" y1="22.4" x2="39.4" y2="22.4" stroke="#ff1010" stroke-width="1.6"/>
<text x="40.9" y="24.4" font-size="6.0" text-anchor="start" font-family="'Liberation Serif',serif" font-weight="bold" fill="#111" textLength="17.3" lengthAdjust="spacingAndGlyphs" stroke="#111" stroke-width="0.26" stroke-linejoin="round">20 mV/s</text>
<line x1="27.3" y1="29.9" x2="39.4" y2="29.9" stroke="#2020b0" stroke-width="1.6"/>
<text x="40.9" y="31.9" font-size="6.0" text-anchor="start" font-family="'Liberation Serif',serif" font-weight="bold" fill="#111" textLength="17.3" lengthAdjust="spacingAndGlyphs" stroke="#111" stroke-width="0.26" stroke-linejoin="round">40 mV/s</text>
<line x1="27.3" y1="37.3" x2="39.4" y2="37.3" stroke="#20e020" stroke-width="1.6"/>
<text x="40.9" y="39.3" font-size="6.0" text-anchor="start" font-family="'Liberation Serif',serif" font-weight="bold" fill="#111" textLength="17.3" lengthAdjust="spacingAndGlyphs" stroke="#111" stroke-width="0.26" stroke-linejoin="round">60 mV/s</text>
<line x1="27.3" y1="44.7" x2="39.4" y2="44.7" stroke="#111" stroke-width="1.6"/>
<text x="40.9" y="46.7" font-size="6.0" text-anchor="start" font-family="'Liberation Serif',serif" font-weight="bold" fill="#111" textLength="17.3" lengthAdjust="spacingAndGlyphs" stroke="#111" stroke-width="0.26" stroke-linejoin="round">80 mV/s</text>
<line x1="27.3" y1="52.1" x2="39.4" y2="52.1" stroke="#a02828" stroke-width="1.6"/>
<text x="40.9" y="54.1" font-size="6.0" text-anchor="start" font-family="'Liberation Serif',serif" font-weight="bold" fill="#111" textLength="19.8" lengthAdjust="spacingAndGlyphs" stroke="#111" stroke-width="0.26" stroke-linejoin="round">100 mV/s</text>
<text x="165.3" y="20.3" font-size="6.0" text-anchor="middle" font-family="'Liberation Sans',sans-serif" font-weight="bold" fill="#111" stroke="#111" stroke-width="0.15" stroke-linejoin="round">(a)</text>
<path d="M205.6,145.2 L205.5,144.01 L205.44,142.78 L205.41,141.55 L205.4,140.33 L205.42,139.11 L205.47,137.89 L205.54,136.68 L205.63,135.47 L205.74,134.26 L205.88,133.06 L206.04,131.86 L206.21,130.67 L206.41,129.48 L206.63,128.29 L206.86,127.1 L207.11,125.92 L207.37,124.75 L207.65,123.57 L207.94,122.4 L208.25,121.24 L208.57,120.07 L208.9,118.91 L209.24,117.76 L209.59,116.6 L209.95,115.46 L210.32,114.31 L210.7,113.17 L211.09,112.03 L211.48,110.89 L211.88,109.76 L212.29,108.63 L212.71,107.5 L213.13,106.38 L213.56,105.25 L214,104.13 L214.44,103.01 L214.89,101.9 L215.34,100.78 L215.8,99.67 L216.26,98.55 L216.73,97.44 L217.2,96.33 L217.68,95.22 L218.16,94.11 L218.64,93 L219.13,91.9 L219.62,90.79 L220.11,89.68 L220.6,88.57 L221.1,87.46 L221.6,86.36 L222.1,85.25 L222.6,84.14 L223.1,83.03 L223.61,81.92 L224.11,80.8 L224.61,79.69 L225.12,78.58 L225.62,77.46 L226.13,76.35 L226.64,75.23 L227.15,74.12 L227.66,73.01 L228.18,71.89 L228.7,70.78 L229.22,69.68 L229.75,68.57 L230.28,67.47 L230.82,66.37 L231.36,65.28 L231.91,64.18 L232.47,63.1 L233.03,62.02 L233.6,60.94 L234.18,59.87 L234.77,58.8 L235.36,57.74 L235.97,56.69 L236.58,55.65 L237.21,54.61 L237.84,53.58 L238.49,52.56 L239.15,51.55 L239.81,50.55 L240.5,49.55 L241.19,48.57 L241.9,47.6 L242.62,46.64 L243.35,45.69 L244.1,44.76 L244.87,43.84 L245.65,42.94 L246.45,42.05 L247.26,41.19 L248.09,40.34 L248.94,39.51 L249.8,38.7 L250.69,37.92 L251.59,37.16 L252.52,36.42 L253.46,35.7 L254.42,35.01 L255.4,34.34 L256.39,33.69 L257.4,33.06 L258.43,32.46 L259.47,31.88 L260.53,31.32 L261.6,30.79 L262.69,30.27 L263.79,29.78 L264.9,29.31 L266.02,28.86 L267.16,28.44 L268.3,28.03 L269.46,27.65 L270.62,27.28 L271.8,26.94 L272.98,26.62 L274.17,26.32 L275.37,26.04 L276.58,25.78 L277.79,25.55 L279.01,25.33 L280.23,25.13 L281.46,24.96 L282.69,24.8 L283.93,24.66 L285.17,24.54 L286.41,24.45 L287.65,24.37 L288.7,23.9 L288.85,25.01 L288.91,26.26 L288.98,27.51 L289.06,28.75 L289.16,29.99 L289.27,31.22 L289.39,32.45 L289.53,33.68 L289.67,34.9 L289.84,36.12 L290.01,37.33 L290.2,38.54 L290.4,39.75 L290.61,40.95 L290.83,42.15 L291.07,43.34 L291.31,44.53 L291.57,45.72 L291.84,46.9 L292.12,48.08 L292.41,49.26 L292.71,50.43 L293.03,51.6 L293.35,52.77 L293.68,53.93 L294.03,55.09 L294.38,56.25 L294.74,57.4 L295.12,58.55 L295.5,59.7 L295.89,60.84 L296.29,61.98 L296.7,63.12 L297.12,64.25 L297.54,65.39 L297.98,66.51 L298.42,67.64 L298.87,68.76 L299.33,69.88 L299.8,71 L300.28,72.12 L300.76,73.23 L301.25,74.34 L301.74,75.45 L302.25,76.55 L302.76,77.65 L303.27,78.75 L303.8,79.85 L304.33,80.95 L304.86,82.04 L305.4,83.13 L305.95,84.22 L306.5,85.31 L307.06,86.39 L307.62,87.47 L308.19,88.55 L308.76,89.63 L309.34,90.71 L309.92,91.78 L310.51,92.86 L311.1,93.93 L311.7,95 L312.3,96.06 L312.9,97.13 L313.51,98.19 L314.12,99.26 L314.73,100.32 L315.34,101.38 L315.96,102.44 L316.59,103.49 L317.21,104.55 L317.84,105.6 L318.46,106.65 L319.1,107.71 L319.73,108.76 L320.36,109.81 L321,110.85 L321.64,111.9 L322.27,112.95 L322.91,113.99 L323.55,115.04 L324.2,116.08 L324.84,117.12 L325.48,118.16 L326.12,119.2 L326.76,120.24 L327.41,121.28 L328.05,122.32 L328.69,123.36 L329.33,124.4 L329.97,125.43 L330.61,126.47 L331.25,127.5 L331.88,128.54 L332.52,129.58 L333.15,130.61 L333.78,131.65 L334.41,132.68 L335.04,133.71 L335.67,134.75 L336.29,135.78 L336.91,136.82 L337.53,137.85 L338.14,138.88 L338.75,139.92 L339.36,140.95 L339.97,141.99 L340.57,143.02 L341.16,144.06 L341.8,145.2" fill="none" stroke="#111" stroke-width="1.15" stroke-linejoin="round" stroke-linecap="round"/>
<path d="M205.8,145.2 L205.82,143.97 L205.86,142.76 L205.9,141.55 L205.94,140.34 L205.98,139.14 L206.02,137.93 L206.07,136.72 L206.12,135.51 L206.17,134.3 L206.22,133.09 L206.27,131.87 L206.33,130.66 L206.38,129.45 L206.44,128.24 L206.5,127.03 L206.57,125.81 L206.64,124.6 L206.7,123.39 L206.78,122.17 L206.85,120.96 L206.93,119.75 L207.01,118.53 L207.09,117.32 L207.18,116.1 L207.26,114.89 L207.35,113.68 L207.45,112.46 L207.55,111.25 L207.65,110.04 L207.75,108.82 L207.86,107.61 L207.97,106.4 L208.08,105.19 L208.2,103.98 L208.32,102.76 L208.45,101.55 L208.58,100.34 L208.71,99.13 L208.84,97.92 L208.98,96.71 L209.13,95.51 L209.28,94.3 L209.43,93.09 L209.58,91.88 L209.75,90.68 L209.91,89.47 L210.08,88.27 L210.25,87.07 L210.43,85.86 L210.61,84.66 L210.8,83.46 L210.99,82.26 L211.19,81.06 L211.39,79.86 L211.6,78.67 L211.81,77.47 L212.03,76.28 L212.25,75.08 L212.48,73.89 L212.71,72.7 L212.95,71.51 L213.19,70.32 L213.44,69.13 L213.69,67.95 L213.95,66.76 L214.21,65.58 L214.48,64.4 L214.76,63.22 L215.04,62.04 L215.33,60.86 L215.62,59.69 L215.92,58.51 L216.23,57.34 L216.54,56.17 L216.86,55 L217.19,53.83 L217.52,52.67 L217.85,51.5 L218.2,50.34 L218.55,49.18 L218.9,48.02 L219.27,46.87 L219.64,45.71 L220.02,44.56 L220.4,43.41 L220.79,42.26 L221.19,41.11 L221.59,39.97 L222.01,38.83 L222.42,37.69 L222.85,36.55 L223.28,35.41 L223.73,34.28 L224.17,33.15 L224.63,32.02 L225.09,30.9 L225.57,29.77 L226.04,28.65 L226.53,27.53 L227.03,26.42 L227.53,25.3 L228.2,24.3 L228.39,25.5 L228.43,26.71 L228.48,27.93 L228.52,29.15 L228.58,30.36 L228.63,31.58 L228.69,32.79 L228.75,34.01 L228.82,35.22 L228.88,36.44 L228.96,37.65 L229.03,38.86 L229.11,40.08 L229.19,41.29 L229.28,42.5 L229.36,43.71 L229.46,44.93 L229.55,46.14 L229.65,47.35 L229.75,48.56 L229.85,49.77 L229.96,50.98 L230.07,52.19 L230.19,53.4 L230.3,54.61 L230.42,55.82 L230.55,57.03 L230.67,58.23 L230.8,59.44 L230.94,60.65 L231.07,61.86 L231.21,63.06 L231.35,64.27 L231.5,65.47 L231.65,66.68 L231.8,67.88 L231.95,69.09 L232.11,70.29 L232.27,71.5 L232.43,72.7 L232.6,73.9 L232.77,75.1 L232.94,76.31 L233.12,77.51 L233.29,78.71 L233.48,79.91 L233.66,81.11 L233.85,82.31 L234.04,83.51 L234.23,84.71 L234.42,85.91 L234.62,87.1 L234.82,88.3 L235.03,89.5 L235.24,90.69 L235.45,91.89 L235.66,93.09 L235.87,94.28 L236.09,95.48 L236.31,96.67 L236.54,97.86 L236.76,99.06 L236.99,100.25 L237.22,101.44 L237.46,102.63 L237.7,103.83 L237.94,105.02 L238.18,106.21 L238.42,107.4 L238.67,108.58 L238.92,109.77 L239.18,110.96 L239.43,112.15 L239.69,113.34 L239.95,114.52 L240.22,115.71 L240.48,116.89 L240.75,118.08 L241.02,119.26 L241.3,120.45 L241.57,121.63 L241.85,122.81 L242.13,124 L242.42,125.18 L242.7,126.36 L242.99,127.54 L243.28,128.72 L243.58,129.9 L243.87,131.08 L244.17,132.25 L244.47,133.43 L244.78,134.61 L245.08,135.78 L245.39,136.96 L245.7,138.14 L246.02,139.31 L246.33,140.48 L246.65,141.66 L246.97,142.83 L247.29,144 L247.5,145.2" fill="none" stroke="#ff1a1a" stroke-width="1.15" stroke-linejoin="round" stroke-linecap="round"/>
<path d="M205.8,145.2 L205.78,143.97 L205.84,142.76 L205.9,141.55 L205.97,140.34 L206.03,139.13 L206.09,137.92 L206.15,136.7 L206.21,135.49 L206.27,134.28 L206.32,133.06 L206.38,131.85 L206.44,130.63 L206.49,129.42 L206.55,128.21 L206.6,126.99 L206.66,125.78 L206.71,124.56 L206.77,123.35 L206.82,122.13 L206.88,120.92 L206.93,119.7 L206.99,118.49 L207.04,117.27 L207.1,116.05 L207.15,114.84 L207.21,113.62 L207.27,112.41 L207.32,111.19 L207.38,109.97 L207.44,108.76 L207.5,107.54 L207.56,106.33 L207.62,105.11 L207.68,103.89 L207.74,102.68 L207.81,101.46 L207.87,100.25 L207.94,99.03 L208.01,97.82 L208.08,96.6 L208.15,95.38 L208.22,94.17 L208.29,92.95 L208.36,91.74 L208.44,90.52 L208.52,89.31 L208.6,88.09 L208.68,86.88 L208.77,85.67 L208.85,84.45 L208.94,83.24 L209.03,82.02 L209.12,80.81 L209.21,79.6 L209.31,78.39 L209.41,77.17 L209.51,75.96 L209.62,74.75 L209.72,73.54 L209.83,72.33 L209.94,71.12 L210.06,69.91 L210.18,68.7 L210.3,67.49 L210.42,66.28 L210.54,65.07 L210.67,63.86 L210.81,62.65 L210.94,61.44 L211.08,60.24 L211.22,59.03 L211.37,57.82 L211.52,56.62 L211.67,55.41 L211.83,54.21 L211.99,53 L212.15,51.8 L212.32,50.59 L212.49,49.39 L212.67,48.19 L212.85,46.99 L213.03,45.79 L213.22,44.59 L213.41,43.39 L213.61,42.19 L213.81,40.99 L214.01,39.79 L214.22,38.59 L214.44,37.39 L214.66,36.2 L214.88,35 L215.11,33.81 L215.34,32.61 L215.58,31.42 L215.82,30.23 L216.07,29.04 L216.32,27.85 L216.58,26.66 L216.84,25.47 L217.2,24.3 L217.37,25.5 L217.38,26.72 L217.38,27.94 L217.39,29.15 L217.4,30.37 L217.42,31.59 L217.43,32.8 L217.45,34.02 L217.48,35.23 L217.5,36.45 L217.53,37.66 L217.56,38.88 L217.6,40.09 L217.64,41.3 L217.68,42.52 L217.72,43.73 L217.76,44.94 L217.81,46.16 L217.86,47.37 L217.92,48.58 L217.97,49.8 L218.03,51.01 L218.09,52.22 L218.15,53.43 L218.22,54.64 L218.29,55.86 L218.36,57.07 L218.43,58.28 L218.5,59.49 L218.58,60.7 L218.66,61.91 L218.74,63.12 L218.82,64.33 L218.91,65.54 L218.99,66.75 L219.08,67.96 L219.18,69.17 L219.27,70.38 L219.36,71.59 L219.46,72.8 L219.56,74.01 L219.66,75.22 L219.76,76.43 L219.87,77.64 L219.97,78.85 L220.08,80.05 L220.19,81.26 L220.3,82.47 L220.41,83.68 L220.52,84.89 L220.64,86.09 L220.76,87.3 L220.88,88.51 L220.99,89.72 L221.12,90.93 L221.24,92.13 L221.36,93.34 L221.49,94.55 L221.61,95.75 L221.74,96.96 L221.87,98.17 L222,99.37 L222.13,100.58 L222.26,101.79 L222.39,102.99 L222.53,104.2 L222.66,105.41 L222.8,106.61 L222.94,107.82 L223.07,109.03 L223.21,110.23 L223.35,111.44 L223.49,112.64 L223.63,113.85 L223.78,115.06 L223.92,116.26 L224.06,117.47 L224.2,118.67 L224.35,119.88 L224.49,121.09 L224.64,122.29 L224.78,123.5 L224.93,124.7 L225.08,125.91 L225.22,127.11 L225.37,128.32 L225.52,129.52 L225.67,130.73 L225.82,131.94 L225.96,133.14 L226.11,134.35 L226.26,135.55 L226.41,136.76 L226.56,137.96 L226.71,139.17 L226.86,140.37 L227.01,141.58 L227.16,142.78 L227.31,143.99 L227.4,145.2" fill="none" stroke="#22ee22" stroke-width="1.15" stroke-linejoin="round" stroke-linecap="round"/>
<path d="M205.8,145.2 L205.84,143.98 L205.87,142.76 L205.9,141.53 L205.93,140.31 L205.96,139.09 L205.99,137.87 L206.02,136.65 L206.05,135.43 L206.08,134.2 L206.11,132.98 L206.14,131.76 L206.17,130.54 L206.2,129.32 L206.23,128.09 L206.27,126.87 L206.3,125.65 L206.33,124.43 L206.36,123.21 L206.39,121.99 L206.42,120.76 L206.46,119.54 L206.49,118.32 L206.52,117.1 L206.55,115.88 L206.59,114.65 L206.62,113.43 L206.65,112.21 L206.69,110.99 L206.72,109.77 L206.75,108.54 L206.79,107.32 L206.82,106.1 L206.86,104.88 L206.89,103.66 L206.93,102.44 L206.97,101.21 L207,99.99 L207.04,98.77 L207.08,97.55 L207.11,96.33 L207.15,95.11 L207.19,93.88 L207.23,92.66 L207.27,91.44 L207.31,90.22 L207.35,89 L207.39,87.78 L207.43,86.56 L207.48,85.33 L207.52,84.11 L207.56,82.89 L207.61,81.67 L207.65,80.45 L207.69,79.23 L207.74,78.01 L207.79,76.78 L207.83,75.56 L207.88,74.34 L207.93,73.12 L207.98,71.9 L208.03,70.68 L208.08,69.46 L208.13,68.24 L208.18,67.01 L208.23,65.79 L208.28,64.57 L208.34,63.35 L208.39,62.13 L208.45,60.91 L208.5,59.69 L208.56,58.47 L208.62,57.25 L208.68,56.03 L208.74,54.81 L208.8,53.58 L208.86,52.36 L208.92,51.14 L208.98,49.92 L209.04,48.7 L209.11,47.48 L209.17,46.26 L209.24,45.04 L209.31,43.82 L209.38,42.6 L209.44,41.38 L209.51,40.16 L209.59,38.94 L209.66,37.72 L209.73,36.5 L209.81,35.28 L209.88,34.06 L209.96,32.84 L210.03,31.62 L210.11,30.4 L210.19,29.18 L210.27,27.96 L210.35,26.74 L210.44,25.52 L210.5,24.3 L210.61,25.52 L210.64,26.74 L210.67,27.97 L210.71,29.19 L210.74,30.42 L210.78,31.64 L210.82,32.86 L210.85,34.09 L210.89,35.31 L210.93,36.54 L210.97,37.76 L211.02,38.98 L211.06,40.21 L211.11,41.43 L211.15,42.65 L211.2,43.88 L211.25,45.1 L211.3,46.32 L211.35,47.55 L211.4,48.77 L211.45,49.99 L211.5,51.21 L211.56,52.44 L211.61,53.66 L211.67,54.88 L211.73,56.1 L211.79,57.33 L211.85,58.55 L211.91,59.77 L211.97,60.99 L212.03,62.22 L212.1,63.44 L212.16,64.66 L212.23,65.88 L212.29,67.11 L212.36,68.33 L212.43,69.55 L212.5,70.77 L212.57,71.99 L212.64,73.22 L212.71,74.44 L212.79,75.66 L212.86,76.88 L212.94,78.1 L213.02,79.32 L213.09,80.54 L213.17,81.77 L213.25,82.99 L213.33,84.21 L213.41,85.43 L213.5,86.65 L213.58,87.87 L213.66,89.09 L213.75,90.31 L213.83,91.53 L213.92,92.76 L214.01,93.98 L214.1,95.2 L214.19,96.42 L214.28,97.64 L214.37,98.86 L214.46,100.08 L214.55,101.3 L214.65,102.52 L214.74,103.74 L214.84,104.96 L214.93,106.18 L215.03,107.4 L215.13,108.62 L215.23,109.84 L215.33,111.06 L215.43,112.28 L215.53,113.5 L215.63,114.72 L215.74,115.94 L215.84,117.16 L215.94,118.38 L216.05,119.6 L216.16,120.82 L216.26,122.04 L216.37,123.26 L216.48,124.48 L216.59,125.7 L216.7,126.91 L216.81,128.13 L216.92,129.35 L217.03,130.57 L217.15,131.79 L217.26,133.01 L217.37,134.23 L217.49,135.45 L217.61,136.67 L217.72,137.89 L217.84,139.1 L217.96,140.32 L218.08,141.54 L218.2,142.76 L218.32,143.98 L218.4,145.2" fill="none" stroke="#a52a2a" stroke-width="1.15" stroke-linejoin="round" stroke-linecap="round"/>
<path d="M205.7,145.2 L205.72,143.98 L205.73,142.76 L205.74,141.54 L205.76,140.31 L205.77,139.09 L205.79,137.87 L205.8,136.65 L205.82,135.43 L205.84,134.21 L205.85,132.98 L205.87,131.76 L205.89,130.54 L205.91,129.32 L205.93,128.1 L205.95,126.88 L205.97,125.65 L205.99,124.43 L206.01,123.21 L206.04,121.99 L206.06,120.77 L206.08,119.55 L206.11,118.33 L206.13,117.1 L206.16,115.88 L206.18,114.66 L206.21,113.44 L206.24,112.22 L206.26,111 L206.29,109.78 L206.32,108.55 L206.35,107.33 L206.38,106.11 L206.41,104.89 L206.43,103.67 L206.46,102.45 L206.5,101.23 L206.53,100.01 L206.56,98.78 L206.59,97.56 L206.62,96.34 L206.65,95.12 L206.69,93.9 L206.72,92.68 L206.75,91.46 L206.79,90.24 L206.82,89.02 L206.86,87.79 L206.89,86.57 L206.93,85.35 L206.96,84.13 L207,82.91 L207.03,81.69 L207.07,80.47 L207.11,79.25 L207.14,78.02 L207.18,76.8 L207.22,75.58 L207.25,74.36 L207.29,73.14 L207.33,71.92 L207.37,70.7 L207.41,69.48 L207.45,68.26 L207.48,67.04 L207.52,65.81 L207.56,64.59 L207.6,63.37 L207.64,62.15 L207.68,60.93 L207.72,59.71 L207.76,58.49 L207.8,57.27 L207.84,56.05 L207.88,54.82 L207.92,53.6 L207.96,52.38 L208,51.16 L208.04,49.94 L208.09,48.72 L208.13,47.5 L208.17,46.28 L208.21,45.06 L208.25,43.84 L208.29,42.61 L208.33,41.39 L208.37,40.17 L208.41,38.95 L208.45,37.73 L208.5,36.51 L208.54,35.29 L208.58,34.07 L208.62,32.85 L208.66,31.63 L208.7,30.41 L208.74,29.18 L208.78,27.96 L208.82,26.74 L208.87,25.52 L208.9,24.3 L208.97,25.52 L208.99,26.74 L209.02,27.97 L209.04,29.19 L209.06,30.41 L209.08,31.63 L209.1,32.85 L209.13,34.08 L209.15,35.3 L209.18,36.52 L209.2,37.74 L209.23,38.97 L209.26,40.19 L209.29,41.41 L209.31,42.63 L209.34,43.85 L209.37,45.08 L209.4,46.3 L209.43,47.52 L209.46,48.74 L209.5,49.96 L209.53,51.19 L209.56,52.41 L209.6,53.63 L209.63,54.85 L209.67,56.07 L209.7,57.3 L209.74,58.52 L209.77,59.74 L209.81,60.96 L209.85,62.18 L209.89,63.4 L209.93,64.63 L209.97,65.85 L210.01,67.07 L210.05,68.29 L210.09,69.51 L210.13,70.73 L210.18,71.95 L210.22,73.18 L210.26,74.4 L210.31,75.62 L210.35,76.84 L210.4,78.06 L210.45,79.28 L210.49,80.5 L210.54,81.72 L210.59,82.95 L210.64,84.17 L210.69,85.39 L210.74,86.61 L210.79,87.83 L210.84,89.05 L210.89,90.27 L210.94,91.49 L211,92.71 L211.05,93.94 L211.1,95.16 L211.16,96.38 L211.21,97.6 L211.27,98.82 L211.33,100.04 L211.38,101.26 L211.44,102.48 L211.5,103.7 L211.56,104.92 L211.62,106.14 L211.68,107.37 L211.74,108.59 L211.8,109.81 L211.86,111.03 L211.93,112.25 L211.99,113.47 L212.05,114.69 L212.12,115.91 L212.18,117.13 L212.25,118.35 L212.31,119.57 L212.38,120.79 L212.45,122.01 L212.52,123.23 L212.58,124.45 L212.65,125.67 L212.72,126.89 L212.79,128.12 L212.86,129.34 L212.93,130.56 L213.01,131.78 L213.08,133 L213.15,134.22 L213.22,135.44 L213.3,136.66 L213.37,137.88 L213.45,139.1 L213.52,140.32 L213.6,141.54 L213.68,142.76 L213.76,143.98 L213.8,145.2" fill="none" stroke="#1a1ab4" stroke-width="1.15" stroke-linejoin="round" stroke-linecap="round"/>
<rect x="205.5" y="14.6" width="150.5" height="130.8" fill="none" stroke="#222" stroke-width="1.2"/>
<line x1="205.5" y1="145.4" x2="205.5" y2="147.4" stroke="#222" stroke-width="1.0"/>
<text x="205.5" y="154.2" font-size="5.0" text-anchor="middle" font-family="'Liberation Serif',serif" font-weight="normal" fill="#111" stroke="#111" stroke-width="0.21" stroke-linejoin="round">0</text>
<line x1="230.49" y1="145.4" x2="230.49" y2="147.4" stroke="#222" stroke-width="1.0"/>
<text x="230.49" y="154.2" font-size="5.0" text-anchor="middle" font-family="'Liberation Serif',serif" font-weight="normal" fill="#111" stroke="#111" stroke-width="0.21" stroke-linejoin="round">50</text>
<line x1="255.47" y1="145.4" x2="255.47" y2="147.4" stroke="#222" stroke-width="1.0"/>
<text x="255.47" y="154.2" font-size="5.0" text-anchor="middle" font-family="'Liberation Serif',serif" font-weight="normal" fill="#111" stroke="#111" stroke-width="0.21" stroke-linejoin="round">100</text>
<line x1="280.45" y1="145.4" x2="280.45" y2="147.4" stroke="#222" stroke-width="1.0"/>
<text x="280.45" y="154.2" font-size="5.0" text-anchor="middle" font-family="'Liberation Serif',serif" font-weight="normal" fill="#111" stroke="#111" stroke-width="0.21" stroke-linejoin="round">150</text>
<line x1="305.44" y1="145.4" x2="305.44" y2="147.4" stroke="#222" stroke-width="1.0"/>
<text x="305.44" y="154.2" font-size="5.0" text-anchor="middle" font-family="'Liberation Serif',serif" font-weight="normal" fill="#111" stroke="#111" stroke-width="0.21" stroke-linejoin="round">200</text>
<line x1="330.43" y1="145.4" x2="330.43" y2="147.4" stroke="#222" stroke-width="1.0"/>
<text x="330.43" y="154.2" font-size="5.0" text-anchor="middle" font-family="'Liberation Serif',serif" font-weight="normal" fill="#111" stroke="#111" stroke-width="0.21" stroke-linejoin="round">250</text>
<line x1="355.41" y1="145.4" x2="355.41" y2="147.4" stroke="#222" stroke-width="1.0"/>
<text x="355.41" y="154.2" font-size="5.0" text-anchor="middle" font-family="'Liberation Serif',serif" font-weight="normal" fill="#111" stroke="#111" stroke-width="0.21" stroke-linejoin="round">300</text>
<line x1="203.3" y1="145.2" x2="205.5" y2="145.2" stroke="#222" stroke-width="1.0"/>
<text x="201.8" y="147.4" font-size="5.2" text-anchor="end" font-family="'Liberation Serif',serif" font-weight="normal" fill="#111" stroke="#111" stroke-width="0.19" stroke-linejoin="round">0.0</text>
<line x1="203.3" y1="125.05" x2="205.5" y2="125.05" stroke="#222" stroke-width="1.0"/>
<text x="201.8" y="127.25" font-size="5.2" text-anchor="end" font-family="'Liberation Serif',serif" font-weight="normal" fill="#111" stroke="#111" stroke-width="0.19" stroke-linejoin="round">0.2</text>
<line x1="203.3" y1="104.9" x2="205.5" y2="104.9" stroke="#222" stroke-width="1.0"/>
<text x="201.8" y="107.1" font-size="5.2" text-anchor="end" font-family="'Liberation Serif',serif" font-weight="normal" fill="#111" stroke="#111" stroke-width="0.19" stroke-linejoin="round">0.4</text>
<line x1="203.3" y1="84.75" x2="205.5" y2="84.75" stroke="#222" stroke-width="1.0"/>
<text x="201.8" y="86.95" font-size="5.2" text-anchor="end" font-family="'Liberation Serif',serif" font-weight="normal" fill="#111" stroke="#111" stroke-width="0.19" stroke-linejoin="round">0.6</text>
<line x1="203.3" y1="64.6" x2="205.5" y2="64.6" stroke="#222" stroke-width="1.0"/>
<text x="201.8" y="66.8" font-size="5.2" text-anchor="end" font-family="'Liberation Serif',serif" font-weight="normal" fill="#111" stroke="#111" stroke-width="0.19" stroke-linejoin="round">0.8</text>
<line x1="203.3" y1="44.45" x2="205.5" y2="44.45" stroke="#222" stroke-width="1.0"/>
<text x="201.8" y="46.65" font-size="5.2" text-anchor="end" font-family="'Liberation Serif',serif" font-weight="normal" fill="#111" stroke="#111" stroke-width="0.19" stroke-linejoin="round">1.0</text>
<line x1="203.3" y1="24.3" x2="205.5" y2="24.3" stroke="#222" stroke-width="1.0"/>
<text x="201.8" y="26.5" font-size="5.2" text-anchor="end" font-family="'Liberation Serif',serif" font-weight="normal" fill="#111" stroke="#111" stroke-width="0.19" stroke-linejoin="round">1.2</text>
<text x="0" y="0" font-size="6.6" text-anchor="middle" font-family="'Liberation Serif',serif" font-weight="bold" fill="#111" transform="translate(192.4 80.6) rotate(-90)" stroke="#111" stroke-width="0.28" stroke-linejoin="round">Potential (V)</text>
<text x="276.6" y="161.9" font-size="6.6" text-anchor="middle" font-family="'Liberation Serif',serif" font-weight="bold" fill="#111" stroke="#111" stroke-width="0.28" stroke-linejoin="round">Time (sec)</text>
<text x="212.5" y="21.6" font-size="6.2" text-anchor="middle" font-family="'Liberation Sans',sans-serif" font-weight="bold" fill="#111" stroke="#111" stroke-width="0.16" stroke-linejoin="round">(b)</text>
<text x="279.1" y="22.1" font-size="6.5" text-anchor="middle" font-family="'Liberation Serif',serif" font-weight="bold" fill="#111" stroke="#111" stroke-width="0.28" stroke-linejoin="round">Device GCD</text>
<line x1="328.5" y1="19.1" x2="339.4" y2="19.1" stroke="#111" stroke-width="1.1"/>
<text x="340.4" y="20.9" font-size="5.0" text-anchor="start" font-family="'Liberation Serif',serif" font-weight="normal" fill="#111" textLength="10.5" lengthAdjust="spacingAndGlyphs" stroke="#111" stroke-width="0.14" stroke-linejoin="round">1 A/g</text>
<line x1="328.5" y1="25.5" x2="339.4" y2="25.5" stroke="#ff1a1a" stroke-width="1.1"/>
<text x="340.4" y="27.3" font-size="5.0" text-anchor="start" font-family="'Liberation Serif',serif" font-weight="normal" fill="#111" textLength="13" lengthAdjust="spacingAndGlyphs" stroke="#111" stroke-width="0.14" stroke-linejoin="round">1.5 A/g</text>
<line x1="328.5" y1="31.9" x2="339.4" y2="31.9" stroke="#22ee22" stroke-width="1.1"/>
<text x="340.4" y="33.7" font-size="5.0" text-anchor="start" font-family="'Liberation Serif',serif" font-weight="normal" fill="#111" textLength="10.5" lengthAdjust="spacingAndGlyphs" stroke="#111" stroke-width="0.14" stroke-linejoin="round">2 A/g</text>
<line x1="328.5" y1="38.4" x2="339.4" y2="38.4" stroke="#a52a2a" stroke-width="1.1"/>
<text x="340.4" y="40.2" font-size="5.0" text-anchor="start" font-family="'Liberation Serif',serif" font-weight="normal" fill="#111" textLength="10.5" lengthAdjust="spacingAndGlyphs" stroke="#111" stroke-width="0.14" stroke-linejoin="round">3 A/g</text>
<line x1="328.5" y1="44.6" x2="339.4" y2="44.6" stroke="#1a1ab4" stroke-width="1.1"/>
<text x="340.4" y="46.4" font-size="5.0" text-anchor="start" font-family="'Liberation Serif',serif" font-weight="normal" fill="#111" textLength="10.5" lengthAdjust="spacingAndGlyphs" stroke="#111" stroke-width="0.14" stroke-linejoin="round">4 A/g</text>
<line x1="328" y1="47.8" x2="354.5" y2="47.8" stroke="#aaa" stroke-width="0.8"/>
<path d="M21.7,277.7 L22.15,276.52 L22.29,275.34 L22.44,274.16 L22.61,272.97 L22.8,271.78 L23,270.59 L23.22,269.4 L23.45,268.21 L23.7,267.01 L23.97,265.82 L24.26,264.63 L24.57,263.44 L24.89,262.26 L25.24,261.08 L25.6,259.9 L25.99,258.74 L26.39,257.58 L26.81,256.43 L27.26,255.29 L27.72,254.15 L28.21,253.04 L28.72,251.93 L29.25,250.83 L29.8,249.75 L30.38,248.69 L30.98,247.64 L31.6,246.61 L32.25,245.59 L32.92,244.6 L33.61,243.62 L34.33,242.67 L35.08,241.74 L35.85,240.82 L36.64,239.94 L37.47,239.07 L38.31,238.24 L39.19,237.42 L40.09,236.64 L41.02,235.88 L41.97,235.15 L42.95,234.45 L43.95,233.77 L44.97,233.11 L46.01,232.47 L47.07,231.85 L48.14,231.25 L49.22,230.67 L50.32,230.11 L51.43,229.56 L52.54,229.03 L53.66,228.51 L54.79,228 L55.93,227.51 L57.06,227.02 L58.2,226.54 L59.33,226.07 L60.46,225.6 L61.59,225.14 L62.71,224.69 L63.84,224.24 L64.96,223.8 L66.08,223.36 L67.21,222.94 L68.34,222.52 L69.46,222.11 L70.6,221.72 L71.74,221.33 L72.88,220.95 L74.02,220.58 L75.17,220.21 L76.32,219.85 L77.48,219.5 L78.63,219.15 L79.79,218.8 L80.95,218.45 L82.11,218.11 L83.28,217.76 L84.44,217.42 L85.6,217.07 L86.77,216.72 L87.93,216.36 L89.09,216 L90.26,215.64 L91.42,215.27 L92.58,214.88 L93.73,214.5 L94.89,214.1 L96.04,213.69 L97.19,213.27 L98.2,212.6" fill="none" stroke="#1a1ab4" stroke-width="1.15" stroke-linejoin="round" stroke-linecap="round"/>
<path d="M21.7,269.4 L22.03,268.15 L22.29,267.01 L22.55,265.85 L22.81,264.69 L23.09,263.51 L23.37,262.33 L23.66,261.14 L23.96,259.94 L24.28,258.74 L24.6,257.54 L24.95,256.34 L25.31,255.14 L25.68,253.95 L26.08,252.76 L26.5,251.58 L26.94,250.42 L27.4,249.26 L27.88,248.12 L28.4,246.99 L28.93,245.89 L29.5,244.8 L30.1,243.73 L30.73,242.69 L31.39,241.67 L32.09,240.68 L32.82,239.72 L33.58,238.79 L34.38,237.89 L35.22,237.02 L36.09,236.19 L36.99,235.38 L37.91,234.61 L38.87,233.86 L39.86,233.15 L40.87,232.48 L41.9,231.83 L42.96,231.22 L44.05,230.64 L45.15,230.1 L46.28,229.58 L47.42,229.09 L48.57,228.63 L49.74,228.2 L50.91,227.78 L52.09,227.39 L53.28,227.01 L54.47,226.65 L55.65,226.31 L56.84,225.97 L58.01,225.65 L59.18,225.33 L60.2,224.6 L59.84,225.73 L59.72,226.98 L59.58,228.23 L59.41,229.47 L59.21,230.71 L58.98,231.94 L58.72,233.16 L58.44,234.38 L58.13,235.58 L57.79,236.78 L57.43,237.97 L57.04,239.15 L56.62,240.31 L56.18,241.46 L55.71,242.6 L55.21,243.73 L54.69,244.84 L54.14,245.94 L53.57,247.02 L52.96,248.08 L52.34,249.13 L51.69,250.16 L51.01,251.17 L50.31,252.16 L49.58,253.13 L48.83,254.07 L48.05,255 L47.25,255.91 L46.43,256.79 L45.58,257.64 L44.7,258.48 L43.8,259.29 L42.88,260.07 L41.94,260.82 L40.97,261.55 L39.98,262.25 L38.97,262.93 L37.94,263.57 L36.89,264.19 L35.82,264.78 L34.72,265.33 L33.61,265.86 L32.48,266.35 L31.33,266.81 L30.16,267.24 L28.97,267.64 L27.76,268.01 L26.54,268.34 L25.3,268.63 L24.05,268.89 L22.77,269.12 L21.7,269.4" fill="none" stroke="#3399ff" stroke-width="1.15" stroke-linejoin="round" stroke-linecap="round"/>
<path d="M21.7,273.9 L22.09,272.66 L22.26,271.49 L22.45,270.31 L22.65,269.13 L22.87,267.93 L23.1,266.73 L23.35,265.53 L23.61,264.32 L23.89,263.12 L24.19,261.91 L24.51,260.7 L24.84,259.5 L25.2,258.3 L25.57,257.11 L25.96,255.92 L26.38,254.74 L26.82,253.57 L27.28,252.41 L27.76,251.26 L28.27,250.13 L28.8,249.01 L29.35,247.91 L29.93,246.82 L30.54,245.76 L31.17,244.71 L31.83,243.69 L32.52,242.69 L33.23,241.71 L33.98,240.76 L34.75,239.84 L35.55,238.94 L36.39,238.08 L37.26,237.24 L38.15,236.44 L39.08,235.67 L40.04,234.93 L41.02,234.22 L42.03,233.54 L43.06,232.88 L44.11,232.25 L45.18,231.64 L46.26,231.05 L47.37,230.48 L48.49,229.94 L49.61,229.41 L50.75,228.89 L51.9,228.4 L53.06,227.91 L54.21,227.44 L55.38,226.99 L56.54,226.54 L57.7,226.1 L58.87,225.67 L60.03,225.24 L61.2,224.83 L62.36,224.42 L63.53,224.02 L64.69,223.62 L65.85,223.23 L67.02,222.85 L68.18,222.46 L69.34,222.08 L70.5,221.7 L71.66,221.33 L72.81,220.95 L73.96,220.58 L75.11,220.2 L76.26,219.83 L77.41,219.45 L78.7,219.2 L78.56,220.38 L78.51,221.63 L78.42,222.88 L78.31,224.12 L78.16,225.36 L77.99,226.59 L77.78,227.81 L77.55,229.03 L77.29,230.23 L77,231.43 L76.68,232.62 L76.33,233.8 L75.96,234.97 L75.56,236.13 L75.13,237.28 L74.68,238.42 L74.2,239.55 L73.7,240.67 L73.17,241.77 L72.62,242.87 L72.04,243.95 L71.44,245.02 L70.82,246.07 L70.17,247.12 L69.5,248.14 L68.81,249.16 L68.1,250.16 L67.37,251.14 L66.62,252.11 L65.84,253.06 L65.05,254 L64.24,254.92 L63.4,255.82 L62.55,256.7 L61.69,257.57 L60.8,258.42 L59.89,259.25 L58.97,260.06 L58.03,260.85 L57.08,261.63 L56.11,262.38 L55.12,263.11 L54.12,263.82 L53.11,264.51 L52.08,265.18 L51.04,265.83 L49.98,266.45 L48.91,267.05 L47.83,267.63 L46.73,268.19 L45.63,268.72 L44.51,269.22 L43.38,269.71 L42.24,270.16 L41.09,270.6 L39.93,271 L38.76,271.38 L37.58,271.73 L36.39,272.06 L35.2,272.36 L34,272.63 L32.79,272.88 L31.57,273.09 L30.35,273.28 L29.12,273.43 L27.88,273.56 L26.64,273.66 L25.39,273.73 L24.14,273.76 L22.89,273.77 L21.7,273.9" fill="none" stroke="#ff2a2a" stroke-width="1.15" stroke-linejoin="round" stroke-linecap="round"/>
<path d="M21.7,277.7 L22.23,276.67 L22.38,275.49 L22.54,274.3 L22.72,273.1 L22.91,271.9 L23.12,270.7 L23.35,269.5 L23.6,268.3 L23.86,267.09 L24.14,265.89 L24.44,264.69 L24.76,263.5 L25.1,262.31 L25.45,261.12 L25.83,259.94 L26.22,258.76 L26.64,257.6 L27.08,256.44 L27.54,255.29 L28.02,254.16 L28.52,253.03 L29.04,251.92 L29.59,250.82 L30.16,249.74 L30.75,248.67 L31.36,247.61 L32,246.58 L32.66,245.56 L33.35,244.56 L34.06,243.58 L34.8,242.62 L35.56,241.69 L36.35,240.77 L37.16,239.89 L38,239.02 L38.87,238.18 L39.77,237.37 L40.69,236.58 L41.63,235.82 L42.61,235.09 L43.6,234.38 L44.61,233.69 L45.65,233.03 L46.7,232.38 L47.77,231.76 L48.85,231.15 L49.95,230.56 L51.05,229.99 L52.17,229.43 L53.29,228.89 L54.42,228.36 L55.56,227.84 L56.7,227.33 L57.84,226.83 L58.98,226.34 L60.11,225.85 L61.25,225.38 L62.38,224.9 L63.51,224.44 L64.65,223.98 L65.78,223.54 L66.91,223.1 L68.05,222.67 L69.18,222.25 L70.33,221.84 L71.47,221.44 L72.63,221.05 L73.78,220.67 L74.94,220.29 L76.1,219.93 L77.27,219.56 L78.43,219.21 L79.6,218.85 L80.77,218.5 L81.95,218.15 L83.12,217.8 L84.3,217.45 L85.47,217.1 L86.65,216.75 L87.82,216.39 L89,216.03 L90.17,215.66 L91.35,215.29 L92.52,214.9 L93.69,214.51 L94.85,214.11 L96.02,213.7 L97.18,213.27 L98.2,212.6 L98.04,213.75 L97.99,214.98 L97.91,216.22 L97.81,217.45 L97.68,218.68 L97.54,219.91 L97.37,221.14 L97.19,222.37 L96.98,223.59 L96.75,224.8 L96.5,226.01 L96.23,227.22 L95.93,228.42 L95.62,229.62 L95.29,230.8 L94.93,231.99 L94.55,233.16 L94.16,234.32 L93.74,235.48 L93.3,236.63 L92.84,237.77 L92.36,238.9 L91.86,240.01 L91.35,241.12 L90.81,242.22 L90.25,243.3 L89.67,244.37 L89.07,245.43 L88.45,246.48 L87.81,247.51 L87.15,248.52 L86.48,249.53 L85.78,250.51 L85.06,251.48 L84.33,252.44 L83.57,253.37 L82.8,254.29 L82,255.2 L81.19,256.08 L80.36,256.94 L79.51,257.79 L78.64,258.62 L77.76,259.42 L76.85,260.21 L75.93,260.97 L74.98,261.71 L74.02,262.43 L73.04,263.13 L72.04,263.8 L71.03,264.45 L69.99,265.08 L68.94,265.68 L67.88,266.26 L66.79,266.82 L65.7,267.36 L64.59,267.87 L63.46,268.37 L62.33,268.85 L61.18,269.31 L60.02,269.75 L58.85,270.17 L57.68,270.58 L56.5,270.98 L55.31,271.35 L54.11,271.72 L52.91,272.07 L51.71,272.41 L50.5,272.74 L49.29,273.05 L48.08,273.36 L46.86,273.66 L45.65,273.94 L44.44,274.22 L43.23,274.49 L42.02,274.76 L40.82,275.02 L39.62,275.27 L38.42,275.52 L37.23,275.76 L36.05,276 L34.86,276.23 L33.68,276.45 L32.5,276.65 L31.32,276.85 L30.14,277.03 L28.96,277.2 L27.78,277.35 L26.59,277.49 L25.4,277.6 L24.21,277.7 L23.01,277.78 L21.7,277.7" fill="none" stroke="#22ee22" stroke-width="1.15" stroke-linejoin="round" stroke-linecap="round"/>
<path d="M21.7,281.5 L22.13,280.81 L22.31,279.66 L22.49,278.5 L22.68,277.33 L22.87,276.15 L23.07,274.97 L23.28,273.78 L23.49,272.59 L23.72,271.4 L23.96,270.2 L24.21,269 L24.48,267.8 L24.76,266.61 L25.06,265.42 L25.38,264.23 L25.72,263.05 L26.07,261.87 L26.45,260.7 L26.85,259.54 L27.27,258.39 L27.72,257.25 L28.19,256.13 L28.69,255.01 L29.21,253.91 L29.75,252.82 L30.32,251.75 L30.91,250.69 L31.53,249.65 L32.17,248.62 L32.83,247.61 L33.52,246.61 L34.22,245.63 L34.95,244.67 L35.7,243.72 L36.48,242.8 L37.27,241.89 L38.09,241 L38.93,240.13 L39.79,239.28 L40.67,238.45 L41.57,237.65 L42.49,236.86 L43.43,236.09 L44.38,235.35 L45.35,234.62 L46.34,233.91 L47.35,233.22 L48.37,232.54 L49.4,231.88 L50.44,231.24 L51.5,230.62 L52.56,230.01 L53.64,229.42 L54.73,228.84 L55.82,228.27 L56.92,227.72 L58.03,227.18 L59.14,226.65 L60.25,226.14 L61.37,225.63 L62.5,225.14 L63.62,224.66 L64.75,224.19 L65.87,223.73 L67,223.28 L68.14,222.83 L69.27,222.4 L70.41,221.98 L71.55,221.56 L72.69,221.15 L73.83,220.75 L74.98,220.36 L76.13,219.97 L77.28,219.59 L78.43,219.22 L79.59,218.85 L80.75,218.49 L81.91,218.13 L83.08,217.78 L84.24,217.44 L85.41,217.09 L86.58,216.75 L87.76,216.41 L88.93,216.07 L90.1,215.73 L91.27,215.38 L92.44,215.03 L93.6,214.67 L94.77,214.31 L95.93,213.94 L97.08,213.56 L98.23,213.17 L99.38,212.77 L100.52,212.35 L101.66,211.93 L102.79,211.48 L103.91,211.03 L105.02,210.55 L106.13,210.06 L107.22,209.54 L108.31,209.01 L109.39,208.45 L110.45,207.87 L111.51,207.27 L112.55,206.64 L113.58,205.99 L114.6,205.3 L115.6,204.59 L116.6,203.85 L117.5,203 L117.4,204.25 L117.25,205.41 L117.08,206.58 L116.91,207.76 L116.72,208.94 L116.51,210.12 L116.3,211.3 L116.07,212.49 L115.83,213.68 L115.57,214.87 L115.3,216.06 L115.02,217.25 L114.72,218.44 L114.41,219.63 L114.08,220.82 L113.74,222.01 L113.39,223.2 L113.02,224.38 L112.64,225.56 L112.24,226.73 L111.83,227.9 L111.4,229.06 L110.96,230.22 L110.51,231.38 L110.04,232.52 L109.55,233.66 L109.05,234.79 L108.53,235.92 L108,237.03 L107.45,238.13 L106.88,239.23 L106.3,240.31 L105.7,241.38 L105.09,242.45 L104.46,243.5 L103.82,244.53 L103.15,245.56 L102.47,246.56 L101.78,247.56 L101.07,248.54 L100.34,249.51 L99.59,250.45 L98.83,251.39 L98.05,252.31 L97.25,253.21 L96.44,254.09 L95.61,254.96 L94.77,255.82 L93.91,256.66 L93.04,257.48 L92.15,258.29 L91.25,259.08 L90.34,259.86 L89.41,260.62 L88.47,261.37 L87.52,262.1 L86.55,262.81 L85.57,263.51 L84.58,264.2 L83.58,264.86 L82.56,265.52 L81.54,266.16 L80.5,266.78 L79.46,267.39 L78.4,267.98 L77.33,268.56 L76.26,269.12 L75.17,269.67 L74.08,270.2 L72.98,270.71 L71.86,271.22 L70.74,271.7 L69.62,272.17 L68.48,272.63 L67.34,273.07 L66.19,273.5 L65.04,273.91 L63.87,274.31 L62.71,274.69 L61.53,275.06 L60.35,275.41 L59.17,275.75 L57.98,276.08 L56.79,276.39 L55.59,276.68 L54.39,276.97 L53.18,277.24 L51.98,277.5 L50.76,277.75 L49.55,277.98 L48.34,278.21 L47.12,278.43 L45.9,278.63 L44.68,278.83 L43.46,279.02 L42.24,279.2 L41.02,279.38 L39.8,279.54 L38.58,279.7 L37.36,279.86 L36.14,280 L34.93,280.15 L33.71,280.28 L32.5,280.42 L31.29,280.55 L30.08,280.67 L28.88,280.8 L27.68,280.92 L26.48,281.03 L25.29,281.15 L24.11,281.27 L22.92,281.38 L21.7,281.5" fill="none" stroke="#9933ff" stroke-width="1.15" stroke-linejoin="round" stroke-linecap="round"/>
<path d="M21.7,285.3 L22.05,284.55 L22.24,283.42 L22.43,282.28 L22.62,281.12 L22.81,279.96 L23,278.79 L23.2,277.61 L23.4,276.43 L23.61,275.24 L23.83,274.04 L24.05,272.85 L24.29,271.65 L24.54,270.45 L24.8,269.26 L25.08,268.07 L25.37,266.88 L25.68,265.69 L26.01,264.52 L26.36,263.35 L26.73,262.18 L27.12,261.03 L27.54,259.89 L27.99,258.76 L28.45,257.65 L28.95,256.54 L29.47,255.45 L30.01,254.38 L30.58,253.32 L31.17,252.27 L31.78,251.23 L32.42,250.21 L33.08,249.2 L33.76,248.21 L34.46,247.23 L35.18,246.27 L35.92,245.32 L36.68,244.39 L37.46,243.47 L38.25,242.57 L39.07,241.68 L39.9,240.81 L40.75,239.96 L41.62,239.12 L42.51,238.3 L43.41,237.49 L44.32,236.7 L45.25,235.93 L46.2,235.18 L47.16,234.44 L48.13,233.72 L49.11,233.01 L50.11,232.32 L51.12,231.65 L52.14,230.99 L53.17,230.34 L54.21,229.71 L55.26,229.1 L56.32,228.5 L57.39,227.91 L58.47,227.34 L59.55,226.79 L60.64,226.25 L61.74,225.72 L62.84,225.21 L63.95,224.71 L65.07,224.22 L66.19,223.75 L67.31,223.28 L68.44,222.84 L69.57,222.4 L70.7,221.98 L71.84,221.56 L72.98,221.16 L74.12,220.76 L75.26,220.38 L76.4,220 L77.55,219.62 L78.7,219.26 L79.85,218.89 L81,218.53 L82.15,218.18 L83.3,217.82 L84.45,217.47 L85.61,217.12 L86.76,216.76 L87.91,216.41 L89.06,216.05 L90.21,215.7 L91.36,215.33 L92.51,214.97 L93.66,214.59 L94.8,214.22 L95.95,213.83 L97.09,213.44 L98.23,213.03 L99.36,212.62 L100.5,212.2 L101.63,211.77 L102.76,211.33 L103.88,210.88 L105,210.42 L106.12,209.96 L107.23,209.48 L108.34,208.99 L109.45,208.49 L110.55,207.99 L111.65,207.47 L112.74,206.95 L113.83,206.41 L114.92,205.87 L116,205.31 L117.07,204.75 L118.14,204.18 L119.2,203.59 L120.26,203 L121.31,202.4 L122.36,201.79 L123.39,201.16 L124.43,200.53 L125.45,199.89 L126.47,199.24 L127.49,198.58 L128.49,197.9 L129.49,197.22 L130.48,196.53 L131.47,195.83 L132.44,195.12 L133.41,194.4 L134.37,193.66 L135.32,192.92 L136.27,192.17 L137.2,191.4 L136.83,192.66 L136.63,193.8 L136.42,194.94 L136.2,196.08 L135.98,197.23 L135.75,198.39 L135.51,199.55 L135.26,200.72 L135.01,201.88 L134.75,203.06 L134.48,204.23 L134.2,205.41 L133.91,206.59 L133.62,207.77 L133.31,208.95 L133,210.14 L132.68,211.32 L132.35,212.51 L132.01,213.69 L131.66,214.88 L131.3,216.06 L130.93,217.24 L130.56,218.42 L130.17,219.6 L129.77,220.78 L129.36,221.95 L128.95,223.12 L128.52,224.29 L128.08,225.45 L127.63,226.61 L127.17,227.77 L126.7,228.92 L126.22,230.06 L125.73,231.2 L125.22,232.33 L124.71,233.46 L124.18,234.58 L123.64,235.69 L123.09,236.79 L122.52,237.89 L121.95,238.97 L121.36,240.05 L120.76,241.12 L120.15,242.18 L119.52,243.23 L118.89,244.27 L118.24,245.3 L117.57,246.32 L116.89,247.32 L116.2,248.32 L115.5,249.3 L114.78,250.27 L114.05,251.22 L113.3,252.17 L112.55,253.1 L111.77,254.01 L110.98,254.91 L110.18,255.8 L109.36,256.67 L108.53,257.52 L107.69,258.36 L106.83,259.19 L105.96,260 L105.07,260.8 L104.18,261.58 L103.27,262.35 L102.34,263.1 L101.41,263.84 L100.46,264.56 L99.5,265.27 L98.53,265.97 L97.55,266.65 L96.56,267.32 L95.56,267.97 L94.55,268.61 L93.53,269.23 L92.49,269.84 L91.45,270.44 L90.4,271.02 L89.34,271.59 L88.27,272.15 L87.19,272.69 L86.11,273.22 L85.01,273.74 L83.91,274.24 L82.8,274.73 L81.68,275.2 L80.55,275.66 L79.42,276.11 L78.28,276.55 L77.14,276.97 L75.99,277.38 L74.83,277.77 L73.67,278.16 L72.5,278.53 L71.33,278.89 L70.15,279.23 L68.96,279.56 L67.78,279.88 L66.58,280.19 L65.39,280.48 L64.19,280.77 L62.98,281.04 L61.78,281.29 L60.57,281.54 L59.36,281.77 L58.14,281.99 L56.92,282.2 L55.7,282.4 L54.48,282.59 L53.26,282.76 L52.04,282.93 L50.81,283.09 L49.59,283.24 L48.36,283.38 L47.13,283.51 L45.91,283.63 L44.68,283.75 L43.46,283.86 L42.23,283.96 L41.01,284.06 L39.78,284.15 L38.56,284.23 L37.34,284.32 L36.13,284.39 L34.91,284.46 L33.7,284.53 L32.49,284.6 L31.28,284.66 L30.08,284.72 L28.88,284.78 L27.68,284.83 L26.49,284.89 L25.3,284.94 L24.12,284.99 L22.94,285.05 L21.7,285.3" fill="none" stroke="#22eeee" stroke-width="1.15" stroke-linejoin="round" stroke-linecap="round"/>
<path d="M21.7,290.6 L21.94,289.38 L22.09,288.2 L22.24,287.02 L22.4,285.83 L22.56,284.64 L22.72,283.44 L22.89,282.25 L23.07,281.04 L23.26,279.84 L23.45,278.64 L23.65,277.44 L23.87,276.23 L24.09,275.03 L24.33,273.83 L24.58,272.63 L24.84,271.44 L25.12,270.25 L25.42,269.07 L25.73,267.89 L26.06,266.72 L26.41,265.55 L26.78,264.39 L27.17,263.24 L27.58,262.1 L28.01,260.97 L28.47,259.85 L28.95,258.74 L29.45,257.64 L29.98,256.55 L30.53,255.47 L31.09,254.41 L31.68,253.35 L32.3,252.31 L32.93,251.28 L33.58,250.27 L34.25,249.26 L34.95,248.27 L35.66,247.29 L36.39,246.33 L37.14,245.38 L37.9,244.44 L38.69,243.52 L39.49,242.61 L40.31,241.72 L41.15,240.84 L42,239.98 L42.87,239.13 L43.76,238.3 L44.66,237.48 L45.58,236.68 L46.51,235.89 L47.46,235.13 L48.42,234.37 L49.39,233.64 L50.37,232.92 L51.37,232.21 L52.38,231.52 L53.39,230.85 L54.42,230.2 L55.46,229.56 L56.5,228.93 L57.55,228.32 L58.61,227.73 L59.68,227.15 L60.75,226.59 L61.83,226.04 L62.92,225.51 L64.01,224.99 L65.1,224.48 L66.2,223.98 L67.31,223.5 L68.42,223.03 L69.54,222.57 L70.66,222.12 L71.79,221.68 L72.92,221.24 L74.05,220.82 L75.19,220.41 L76.33,220 L77.47,219.6 L78.62,219.21 L79.77,218.82 L80.92,218.44 L82.07,218.06 L83.22,217.69 L84.38,217.32 L85.54,216.95 L86.69,216.58 L87.85,216.22 L89.01,215.85 L90.17,215.49 L91.32,215.12 L92.48,214.75 L93.64,214.38 L94.79,214.01 L95.95,213.63 L97.1,213.25 L98.25,212.86 L99.39,212.47 L100.54,212.07 L101.68,211.66 L102.82,211.25 L103.95,210.83 L105.08,210.4 L106.21,209.96 L107.33,209.51 L108.45,209.04 L109.56,208.57 L110.67,208.08 L111.77,207.58 L112.87,207.07 L113.96,206.54 L115.04,206 L116.12,205.44 L117.19,204.88 L118.26,204.29 L119.32,203.7 L120.38,203.1 L121.44,202.49 L122.49,201.87 L123.54,201.25 L124.58,200.62 L125.62,199.98 L126.67,199.35 L127.71,198.71 L128.75,198.07 L129.78,197.43 L130.82,196.79 L131.86,196.15 L132.9,195.52 L133.94,194.89 L134.99,194.27 L136.03,193.65 L137.07,193.04 L138.12,192.42 L139.16,191.81 L140.2,191.2 L141.24,190.59 L142.28,189.97 L143.32,189.35 L144.35,188.73 L145.38,188.09 L146.41,187.46 L147.43,186.81 L148.44,186.15 L149.45,185.48 L150.45,184.8 L151.45,184.11 L152.44,183.4 L153.42,182.68 L154.39,181.94 L155.35,181.18 L156.3,180.4 L156.32,181.76 L156.07,182.91 L155.82,184.06 L155.56,185.21 L155.3,186.36 L155.02,187.52 L154.74,188.67 L154.45,189.83 L154.16,190.98 L153.86,192.14 L153.55,193.3 L153.23,194.45 L152.91,195.61 L152.58,196.76 L152.24,197.92 L151.89,199.07 L151.54,200.23 L151.18,201.38 L150.81,202.53 L150.44,203.68 L150.05,204.83 L149.66,205.98 L149.26,207.12 L148.86,208.27 L148.44,209.41 L148.02,210.55 L147.59,211.69 L147.15,212.83 L146.71,213.96 L146.26,215.09 L145.8,216.22 L145.33,217.34 L144.85,218.47 L144.37,219.59 L143.87,220.7 L143.37,221.81 L142.86,222.92 L142.35,224.03 L141.82,225.13 L141.29,226.23 L140.74,227.32 L140.19,228.41 L139.64,229.49 L139.07,230.57 L138.49,231.65 L137.91,232.72 L137.32,233.78 L136.72,234.84 L136.11,235.89 L135.49,236.94 L134.87,237.99 L134.23,239.02 L133.59,240.06 L132.94,241.08 L132.27,242.1 L131.6,243.11 L130.93,244.12 L130.24,245.12 L129.54,246.11 L128.84,247.1 L128.12,248.08 L127.4,249.05 L126.67,250.02 L125.93,250.97 L125.18,251.92 L124.42,252.86 L123.65,253.8 L122.88,254.73 L122.09,255.64 L121.29,256.55 L120.49,257.45 L119.67,258.35 L118.85,259.23 L118.02,260.1 L117.18,260.97 L116.33,261.82 L115.46,262.66 L114.59,263.49 L113.71,264.31 L112.83,265.12 L111.93,265.92 L111.02,266.71 L110.1,267.48 L109.17,268.24 L108.24,268.99 L107.29,269.72 L106.33,270.44 L105.37,271.15 L104.39,271.84 L103.41,272.52 L102.41,273.19 L101.41,273.83 L100.4,274.47 L99.37,275.08 L98.34,275.68 L97.29,276.27 L96.24,276.83 L95.18,277.38 L94.11,277.92 L93.02,278.43 L91.93,278.94 L90.84,279.42 L89.73,279.89 L88.61,280.35 L87.49,280.79 L86.36,281.21 L85.23,281.63 L84.09,282.02 L82.94,282.41 L81.78,282.78 L80.62,283.13 L79.46,283.48 L78.29,283.81 L77.12,284.12 L75.94,284.43 L74.76,284.72 L73.57,285 L72.38,285.27 L71.19,285.53 L69.99,285.78 L68.79,286.02 L67.59,286.25 L66.39,286.46 L65.18,286.67 L63.97,286.87 L62.76,287.06 L61.55,287.24 L60.33,287.42 L59.12,287.58 L57.9,287.74 L56.68,287.89 L55.47,288.04 L54.25,288.18 L53.03,288.31 L51.81,288.44 L50.59,288.56 L49.37,288.67 L48.15,288.79 L46.93,288.89 L45.72,289 L44.5,289.09 L43.28,289.19 L42.07,289.28 L40.86,289.37 L39.65,289.46 L38.44,289.55 L37.23,289.63 L36.03,289.71 L34.82,289.8 L33.62,289.88 L32.43,289.96 L31.23,290.04 L30.04,290.12 L28.86,290.2 L27.67,290.28 L26.49,290.37 L25.32,290.45 L24.15,290.54 L22.98,290.63 L21.7,290.6" fill="none" stroke="#8b1a8b" stroke-width="1.15" stroke-linejoin="round" stroke-linecap="round"/>
<rect x="21.2" y="174.2" width="154.6" height="132.6" fill="none" stroke="#222" stroke-width="1.3"/>
<line x1="21.2" y1="306.8" x2="21.2" y2="309.1" stroke="#222" stroke-width="1.1"/>
<text x="21.2" y="317.5" font-size="7.6" text-anchor="middle" font-family="'Liberation Serif',serif" font-weight="bold" fill="#111" stroke="#111" stroke-width="0.33" stroke-linejoin="round">0.0</text>
<line x1="40.54" y1="306.8" x2="40.54" y2="309.1" stroke="#222" stroke-width="1.1"/>
<text x="40.54" y="317.5" font-size="7.6" text-anchor="middle" font-family="'Liberation Serif',serif" font-weight="bold" fill="#111" stroke="#111" stroke-width="0.33" stroke-linejoin="round">0.2</text>
<line x1="59.88" y1="306.8" x2="59.88" y2="309.1" stroke="#222" stroke-width="1.1"/>
<text x="59.88" y="317.5" font-size="7.6" text-anchor="middle" font-family="'Liberation Serif',serif" font-weight="bold" fill="#111" stroke="#111" stroke-width="0.33" stroke-linejoin="round">0.4</text>
<line x1="79.22" y1="306.8" x2="79.22" y2="309.1" stroke="#222" stroke-width="1.1"/>
<text x="79.22" y="317.5" font-size="7.6" text-anchor="middle" font-family="'Liberation Serif',serif" font-weight="bold" fill="#111" stroke="#111" stroke-width="0.33" stroke-linejoin="round">0.6</text>
<line x1="98.56" y1="306.8" x2="98.56" y2="309.1" stroke="#222" stroke-width="1.1"/>
<text x="98.56" y="317.5" font-size="7.6" text-anchor="middle" font-family="'Liberation Serif',serif" font-weight="bold" fill="#111" stroke="#111" stroke-width="0.33" stroke-linejoin="round">0.8</text>
<line x1="117.9" y1="306.8" x2="117.9" y2="309.1" stroke="#222" stroke-width="1.1"/>
<text x="117.9" y="317.5" font-size="7.6" text-anchor="middle" font-family="'Liberation Serif',serif" font-weight="bold" fill="#111" stroke="#111" stroke-width="0.33" stroke-linejoin="round">1.0</text>
<line x1="137.24" y1="306.8" x2="137.24" y2="309.1" stroke="#222" stroke-width="1.1"/>
<text x="137.24" y="317.5" font-size="7.6" text-anchor="middle" font-family="'Liberation Serif',serif" font-weight="bold" fill="#111" stroke="#111" stroke-width="0.33" stroke-linejoin="round">1.2</text>
<line x1="156.58" y1="306.8" x2="156.58" y2="309.1" stroke="#222" stroke-width="1.1"/>
<text x="156.58" y="317.5" font-size="7.6" text-anchor="middle" font-family="'Liberation Serif',serif" font-weight="bold" fill="#111" stroke="#111" stroke-width="0.33" stroke-linejoin="round">1.4</text>
<line x1="175.92" y1="306.8" x2="175.92" y2="309.1" stroke="#222" stroke-width="1.1"/>
<text x="175.92" y="317.5" font-size="7.6" text-anchor="middle" font-family="'Liberation Serif',serif" font-weight="bold" fill="#111" stroke="#111" stroke-width="0.33" stroke-linejoin="round">1.6</text>
<line x1="18.6" y1="291.08" x2="21.2" y2="291.08" stroke="#222" stroke-width="1.1"/>
<text x="16.3" y="294.08" font-size="7.4" text-anchor="end" font-family="'Liberation Serif',serif" font-weight="bold" fill="#111" stroke="#111" stroke-width="0.32" stroke-linejoin="round">-6</text>
<line x1="18.6" y1="269.09" x2="21.2" y2="269.09" stroke="#222" stroke-width="1.1"/>
<text x="16.3" y="272.09" font-size="7.4" text-anchor="end" font-family="'Liberation Serif',serif" font-weight="bold" fill="#111" stroke="#111" stroke-width="0.32" stroke-linejoin="round">-3</text>
<line x1="18.6" y1="247.1" x2="21.2" y2="247.1" stroke="#222" stroke-width="1.1"/>
<text x="16.3" y="250.1" font-size="7.4" text-anchor="end" font-family="'Liberation Serif',serif" font-weight="bold" fill="#111" stroke="#111" stroke-width="0.32" stroke-linejoin="round">0</text>
<line x1="18.6" y1="225.11" x2="21.2" y2="225.11" stroke="#222" stroke-width="1.1"/>
<text x="16.3" y="228.11" font-size="7.4" text-anchor="end" font-family="'Liberation Serif',serif" font-weight="bold" fill="#111" stroke="#111" stroke-width="0.32" stroke-linejoin="round">3</text>
<line x1="18.6" y1="203.12" x2="21.2" y2="203.12" stroke="#222" stroke-width="1.1"/>
<text x="16.3" y="206.12" font-size="7.4" text-anchor="end" font-family="'Liberation Serif',serif" font-weight="bold" fill="#111" stroke="#111" stroke-width="0.32" stroke-linejoin="round">6</text>
<line x1="18.6" y1="181.13" x2="21.2" y2="181.13" stroke="#222" stroke-width="1.1"/>
<text x="16.3" y="184.13" font-size="7.4" text-anchor="end" font-family="'Liberation Serif',serif" font-weight="bold" fill="#111" stroke="#111" stroke-width="0.32" stroke-linejoin="round">9</text>
<text x="0" y="0" font-size="7.3" text-anchor="middle" font-family="'Liberation Serif',serif" font-weight="bold" fill="#111" transform="translate(9.4 239.1) rotate(-90)" stroke="#111" stroke-width="0.31" stroke-linejoin="round">Current density (A/g)</text>
<text x="98.5" y="327" font-size="6.4" text-anchor="middle" font-family="'Liberation Serif',serif" font-weight="bold" fill="#111" stroke="#111" stroke-width="0.27" stroke-linejoin="round">Potential (V)</text>
<text x="31.5" y="183" font-size="6.6" text-anchor="middle" font-family="'Liberation Sans',sans-serif" font-weight="bold" fill="#111" stroke="#111" stroke-width="0.17" stroke-linejoin="round">(d)</text>
<text x="38.8" y="180.6" font-size="6.4" text-anchor="start" font-family="'Liberation Serif',serif" font-weight="bold" fill="#111" textLength="128.2" lengthAdjust="spacingAndGlyphs" stroke="#111" stroke-width="0.27" stroke-linejoin="round">CV@ Symmetric device at diffrent voltage window</text>
<line x1="141.2" y1="240.2" x2="156.6" y2="240.2" stroke="#3399ff" stroke-width="1.6"/>
<text x="158.9" y="242.6" font-size="7.0" text-anchor="start" font-family="'Liberation Serif',serif" font-weight="bold" fill="#111" stroke="#111" stroke-width="0.3" stroke-linejoin="round">0.4 V</text>
<line x1="141.2" y1="248.9" x2="156.6" y2="248.9" stroke="#ff2a2a" stroke-width="1.6"/>
<text x="158.9" y="251.3" font-size="7.0" text-anchor="start" font-family="'Liberation Serif',serif" font-weight="bold" fill="#111" stroke="#111" stroke-width="0.3" stroke-linejoin="round">0.6 V</text>
<line x1="141.2" y1="257.8" x2="156.6" y2="257.8" stroke="#1a1ab4" stroke-width="1.6"/>
<text x="158.9" y="260.2" font-size="7.0" text-anchor="start" font-family="'Liberation Serif',serif" font-weight="bold" fill="#111" stroke="#111" stroke-width="0.3" stroke-linejoin="round">0.8 V</text>
<line x1="141.2" y1="266.8" x2="156.6" y2="266.8" stroke="#22ee22" stroke-width="1.6"/>
<text x="158.9" y="269.2" font-size="7.0" text-anchor="start" font-family="'Liberation Serif',serif" font-weight="bold" fill="#111" stroke="#111" stroke-width="0.3" stroke-linejoin="round">0.8 V</text>
<line x1="141.2" y1="275.9" x2="156.6" y2="275.9" stroke="#9933ff" stroke-width="1.6"/>
<text x="158.9" y="278.3" font-size="7.0" text-anchor="start" font-family="'Liberation Serif',serif" font-weight="bold" fill="#111" stroke="#111" stroke-width="0.3" stroke-linejoin="round">1.0 V</text>
<line x1="141.2" y1="285" x2="156.6" y2="285" stroke="#22eeee" stroke-width="1.6"/>
<text x="158.9" y="287.4" font-size="7.0" text-anchor="start" font-family="'Liberation Serif',serif" font-weight="bold" fill="#111" stroke="#111" stroke-width="0.3" stroke-linejoin="round">1.2 V</text>
<line x1="141.2" y1="294" x2="156.6" y2="294" stroke="#8b1a8b" stroke-width="1.6"/>
<text x="158.9" y="296.4" font-size="7.0" text-anchor="start" font-family="'Liberation Serif',serif" font-weight="bold" fill="#111" stroke="#111" stroke-width="0.3" stroke-linejoin="round">1.4 V</text>
<line x1="141" y1="299.3" x2="174" y2="299.3" stroke="#999" stroke-width="0.8"/>
<rect x="208" y="176.4" width="150" height="131.4" fill="none" stroke="#222" stroke-width="1.2"/>
<line x1="217.97" y1="307.8" x2="217.97" y2="309.8" stroke="#222" stroke-width="1.0"/>
<text x="217.97" y="316.7" font-size="5.2" text-anchor="middle" font-family="'Liberation Serif',serif" font-weight="bold" fill="#111" stroke="#111" stroke-width="0.22" stroke-linejoin="round">4</text>
<line x1="237.91" y1="307.8" x2="237.91" y2="309.8" stroke="#222" stroke-width="1.0"/>
<text x="237.91" y="316.7" font-size="5.2" text-anchor="middle" font-family="'Liberation Serif',serif" font-weight="bold" fill="#111" stroke="#111" stroke-width="0.22" stroke-linejoin="round">6</text>
<line x1="257.85" y1="307.8" x2="257.85" y2="309.8" stroke="#222" stroke-width="1.0"/>
<text x="257.85" y="316.7" font-size="5.2" text-anchor="middle" font-family="'Liberation Serif',serif" font-weight="bold" fill="#111" stroke="#111" stroke-width="0.22" stroke-linejoin="round">8</text>
<line x1="277.79" y1="307.8" x2="277.79" y2="309.8" stroke="#222" stroke-width="1.0"/>
<text x="277.79" y="316.7" font-size="5.2" text-anchor="middle" font-family="'Liberation Serif',serif" font-weight="bold" fill="#111" stroke="#111" stroke-width="0.22" stroke-linejoin="round">10</text>
<line x1="297.73" y1="307.8" x2="297.73" y2="309.8" stroke="#222" stroke-width="1.0"/>
<text x="297.73" y="316.7" font-size="5.2" text-anchor="middle" font-family="'Liberation Serif',serif" font-weight="bold" fill="#111" stroke="#111" stroke-width="0.22" stroke-linejoin="round">12</text>
<line x1="317.67" y1="307.8" x2="317.67" y2="309.8" stroke="#222" stroke-width="1.0"/>
<text x="317.67" y="316.7" font-size="5.2" text-anchor="middle" font-family="'Liberation Serif',serif" font-weight="bold" fill="#111" stroke="#111" stroke-width="0.22" stroke-linejoin="round">14</text>
<line x1="337.61" y1="307.8" x2="337.61" y2="309.8" stroke="#222" stroke-width="1.0"/>
<text x="337.61" y="316.7" font-size="5.2" text-anchor="middle" font-family="'Liberation Serif',serif" font-weight="bold" fill="#111" stroke="#111" stroke-width="0.22" stroke-linejoin="round">16</text>
<line x1="357.55" y1="307.8" x2="357.55" y2="309.8" stroke="#222" stroke-width="1.0"/>
<text x="357.55" y="316.7" font-size="5.2" text-anchor="middle" font-family="'Liberation Serif',serif" font-weight="bold" fill="#111" stroke="#111" stroke-width="0.22" stroke-linejoin="round">18</text>
<line x1="205.7" y1="307.8" x2="208" y2="307.8" stroke="#222" stroke-width="1.0"/>
<text x="204.9" y="309.6" font-size="5.2" text-anchor="end" font-family="'Liberation Serif',serif" font-weight="bold" fill="#111" stroke="#111" stroke-width="0.22" stroke-linejoin="round">400</text>
<line x1="205.7" y1="291.38" x2="208" y2="291.38" stroke="#222" stroke-width="1.0"/>
<text x="204.9" y="293.18" font-size="5.2" text-anchor="end" font-family="'Liberation Serif',serif" font-weight="bold" fill="#111" stroke="#111" stroke-width="0.22" stroke-linejoin="round">600</text>
<line x1="205.7" y1="274.95" x2="208" y2="274.95" stroke="#222" stroke-width="1.0"/>
<text x="204.9" y="276.75" font-size="5.2" text-anchor="end" font-family="'Liberation Serif',serif" font-weight="bold" fill="#111" stroke="#111" stroke-width="0.22" stroke-linejoin="round">800</text>
<line x1="205.7" y1="258.52" x2="208" y2="258.52" stroke="#222" stroke-width="1.0"/>
<text x="204.9" y="260.32" font-size="5.2" text-anchor="end" font-family="'Liberation Serif',serif" font-weight="bold" fill="#111" stroke="#111" stroke-width="0.22" stroke-linejoin="round">1000</text>
<line x1="205.7" y1="242.1" x2="208" y2="242.1" stroke="#222" stroke-width="1.0"/>
<text x="204.9" y="243.9" font-size="5.2" text-anchor="end" font-family="'Liberation Serif',serif" font-weight="bold" fill="#111" stroke="#111" stroke-width="0.22" stroke-linejoin="round">1200</text>
<line x1="205.7" y1="225.68" x2="208" y2="225.68" stroke="#222" stroke-width="1.0"/>
<text x="204.9" y="227.48" font-size="5.2" text-anchor="end" font-family="'Liberation Serif',serif" font-weight="bold" fill="#111" stroke="#111" stroke-width="0.22" stroke-linejoin="round">1400</text>
<line x1="205.7" y1="209.25" x2="208" y2="209.25" stroke="#222" stroke-width="1.0"/>
<text x="204.9" y="211.05" font-size="5.2" text-anchor="end" font-family="'Liberation Serif',serif" font-weight="bold" fill="#111" stroke="#111" stroke-width="0.22" stroke-linejoin="round">1600</text>
<line x1="205.7" y1="192.83" x2="208" y2="192.83" stroke="#222" stroke-width="1.0"/>
<text x="204.9" y="194.63" font-size="5.2" text-anchor="end" font-family="'Liberation Serif',serif" font-weight="bold" fill="#111" stroke="#111" stroke-width="0.22" stroke-linejoin="round">1800</text>
<line x1="205.7" y1="176.4" x2="208" y2="176.4" stroke="#222" stroke-width="1.0"/>
<text x="204.9" y="178.2" font-size="5.2" text-anchor="end" font-family="'Liberation Serif',serif" font-weight="bold" fill="#111" stroke="#111" stroke-width="0.22" stroke-linejoin="round">2000</text>
<text x="0" y="0" font-size="6.3" text-anchor="middle" font-family="'Liberation Serif',serif" font-weight="bold" fill="#111" transform="translate(192.6 242.8) rotate(-90)" stroke="#111" stroke-width="0.27" stroke-linejoin="round">Power density (W/kg)</text>
<text x="280" y="324" font-size="6.4" text-anchor="middle" font-family="'Liberation Serif',serif" font-weight="bold" fill="#111" stroke="#111" stroke-width="0.27" stroke-linejoin="round">Energy density (Wh/kg)</text>
<text x="351.6" y="186.4" font-size="6.2" text-anchor="middle" font-family="'Liberation Sans',sans-serif" font-weight="bold" fill="#111" stroke="#111" stroke-width="0.16" stroke-linejoin="round">(e)</text>
<polygon points="226.4,180.8 227.01,182.26 228.59,182.39 227.38,183.42 227.75,184.96 226.4,184.13 225.05,184.96 225.42,183.42 224.21,182.39 225.79,182.26" fill="#ff8c1a"/>
<polygon points="238.3,202 238.91,203.46 240.49,203.59 239.28,204.62 239.65,206.16 238.3,205.33 236.95,206.16 237.32,204.62 236.11,203.59 237.69,203.46" fill="#ff8c1a"/>
<polygon points="254.5,220.1 255.11,221.56 256.69,221.69 255.48,222.72 255.85,224.26 254.5,223.43 253.15,224.26 253.52,222.72 252.31,221.69 253.89,221.56" fill="#ff8c1a"/>
<polygon points="285.8,254.5 286.41,255.96 287.99,256.09 286.78,257.12 287.15,258.66 285.8,257.84 284.45,258.66 284.82,257.12 283.61,256.09 285.19,255.96" fill="#ff8c1a"/>
<polygon points="349.7,290.1 350.31,291.56 351.89,291.69 350.68,292.72 351.05,294.26 349.7,293.44 348.35,294.26 348.72,292.72 347.51,291.69 349.09,291.56" fill="#ff8c1a"/>
<rect x="398.9" y="220.1" width="55" height="46" fill="#fff" stroke="#444" stroke-width="0.7"/>
<path d="M399.4,265.7 L400.68,223.7 L400.74,226.2 L402.07,265.7 L403.36,223.7 L403.41,226.2 L404.75,265.7 L406.03,223.7 L406.09,226.2 L407.43,265.7 L408.71,223.7 L408.76,226.2 L410.1,265.7 L411.38,223.7 L411.44,226.2 L412.77,265.7 L414.06,223.7 L414.11,226.2 L415.45,265.7 L416.73,223.7 L416.79,226.2 L418.12,265.7 L419.41,223.7 L419.46,226.2 L420.8,265.7 L422.08,223.7 L422.14,226.2 L423.47,265.7 L424.76,223.7 L424.81,226.2 L426.15,265.7 L427.43,223.7 L427.49,226.2 L428.82,265.7 L430.11,223.7 L430.16,226.2 L431.5,265.7 L432.78,223.7 L432.84,226.2 L434.18,265.7 L435.46,223.7 L435.51,226.2 L436.85,265.7 L438.13,223.7 L438.19,226.2 L439.52,265.7 L440.81,223.7 L440.86,226.2 L442.2,265.7 L443.48,223.7 L443.54,226.2 L444.88,265.7 L446.16,223.7 L446.21,226.2 L447.55,265.7 L448.83,223.7 L448.89,226.2 L450.22,265.7 L451.51,223.7 L451.56,226.2 L452.9,265.7" fill="none" stroke="#505050" stroke-width="0.6" stroke-linejoin="miter"/>
<line x1="398.1" y1="223.7" x2="398.9" y2="223.7" stroke="#444" stroke-width="0.4"/>
<text x="397.9" y="224.5" font-size="2.2" text-anchor="end" font-family="'Liberation Sans',sans-serif" fill="#555">1.2</text>
<line x1="398.1" y1="234.2" x2="398.9" y2="234.2" stroke="#444" stroke-width="0.4"/>
<text x="397.9" y="235" font-size="2.2" text-anchor="end" font-family="'Liberation Sans',sans-serif" fill="#555">0.9</text>
<line x1="398.1" y1="244.7" x2="398.9" y2="244.7" stroke="#444" stroke-width="0.4"/>
<text x="397.9" y="245.5" font-size="2.2" text-anchor="end" font-family="'Liberation Sans',sans-serif" fill="#555">0.6</text>
<line x1="398.1" y1="255.2" x2="398.9" y2="255.2" stroke="#444" stroke-width="0.4"/>
<text x="397.9" y="256" font-size="2.2" text-anchor="end" font-family="'Liberation Sans',sans-serif" fill="#555">0.3</text>
<line x1="398.1" y1="265.7" x2="398.9" y2="265.7" stroke="#444" stroke-width="0.4"/>
<text x="397.9" y="266.5" font-size="2.2" text-anchor="end" font-family="'Liberation Sans',sans-serif" fill="#555">0.0</text>
<text x="398.9" y="268.7" font-size="2.2" text-anchor="middle" font-family="'Liberation Sans',sans-serif" fill="#555">0</text>
<text x="406.76" y="268.7" font-size="2.2" text-anchor="middle" font-family="'Liberation Sans',sans-serif" fill="#555">100</text>
<text x="414.61" y="268.7" font-size="2.2" text-anchor="middle" font-family="'Liberation Sans',sans-serif" fill="#555">200</text>
<text x="422.47" y="268.7" font-size="2.2" text-anchor="middle" font-family="'Liberation Sans',sans-serif" fill="#555">300</text>
<text x="430.33" y="268.7" font-size="2.2" text-anchor="middle" font-family="'Liberation Sans',sans-serif" fill="#555">400</text>
<text x="438.19" y="268.7" font-size="2.2" text-anchor="middle" font-family="'Liberation Sans',sans-serif" fill="#555">500</text>
<text x="446.04" y="268.7" font-size="2.2" text-anchor="middle" font-family="'Liberation Sans',sans-serif" fill="#555">600</text>
<text x="453.9" y="268.7" font-size="2.2" text-anchor="middle" font-family="'Liberation Sans',sans-serif" fill="#555">700</text>
<text x="426.4" y="271.1" font-size="2.4" text-anchor="middle" font-family="'Liberation Sans',sans-serif" fill="#555">Time (s)</text>
<text transform="translate(394.7 243.1) rotate(-90)" x="0" y="0" font-size="2.3" text-anchor="middle" font-family="'Liberation Sans',sans-serif" fill="#555">Potential (V vs. Ag/AgCl)</text>
<rect x="472.1" y="219.4" width="54" height="47" fill="#fff" stroke="#444" stroke-width="0.7"/>
<path d="M472.6,266 L473.86,222.7 L473.91,225.2 L475.23,266 L476.49,222.7 L476.54,225.2 L477.85,266 L479.11,222.7 L479.16,225.2 L480.48,266 L481.74,222.7 L481.79,225.2 L483.1,266 L484.36,222.7 L484.41,225.2 L485.73,266 L486.99,222.7 L487.04,225.2 L488.35,266 L489.61,222.7 L489.66,225.2 L490.98,266 L492.24,222.7 L492.29,225.2 L493.6,266 L494.86,222.7 L494.91,225.2 L496.23,266 L497.49,222.7 L497.54,225.2 L498.85,266 L500.11,222.7 L500.16,225.2 L501.48,266 L502.74,222.7 L502.79,225.2 L504.1,266 L505.36,222.7 L505.41,225.2 L506.73,266 L507.99,222.7 L508.04,225.2 L509.35,266 L510.61,222.7 L510.66,225.2 L511.98,266 L513.24,222.7 L513.29,225.2 L514.6,266 L515.86,222.7 L515.91,225.2 L517.23,266 L518.49,222.7 L518.54,225.2 L519.85,266 L521.11,222.7 L521.16,225.2 L522.48,266 L523.74,222.7 L523.79,225.2 L525.1,266" fill="none" stroke="#ff2a2a" stroke-width="0.65" stroke-linejoin="miter"/>
<line x1="471.3" y1="222.7" x2="472.1" y2="222.7" stroke="#444" stroke-width="0.4"/>
<text x="471.1" y="223.5" font-size="2.2" text-anchor="end" font-family="'Liberation Sans',sans-serif" fill="#555">1.2</text>
<line x1="471.3" y1="233.52" x2="472.1" y2="233.52" stroke="#444" stroke-width="0.4"/>
<text x="471.1" y="234.32" font-size="2.2" text-anchor="end" font-family="'Liberation Sans',sans-serif" fill="#555">0.9</text>
<line x1="471.3" y1="244.35" x2="472.1" y2="244.35" stroke="#444" stroke-width="0.4"/>
<text x="471.1" y="245.15" font-size="2.2" text-anchor="end" font-family="'Liberation Sans',sans-serif" fill="#555">0.6</text>
<line x1="471.3" y1="255.18" x2="472.1" y2="255.18" stroke="#444" stroke-width="0.4"/>
<text x="471.1" y="255.98" font-size="2.2" text-anchor="end" font-family="'Liberation Sans',sans-serif" fill="#555">0.3</text>
<line x1="471.3" y1="266" x2="472.1" y2="266" stroke="#444" stroke-width="0.4"/>
<text x="471.1" y="266.8" font-size="2.2" text-anchor="end" font-family="'Liberation Sans',sans-serif" fill="#555">0.0</text>
<text x="472.1" y="269" font-size="2.2" text-anchor="middle" font-family="'Liberation Sans',sans-serif" fill="#555">15700</text>
<text x="481.1" y="269" font-size="2.2" text-anchor="middle" font-family="'Liberation Sans',sans-serif" fill="#555">15800</text>
<text x="490.1" y="269" font-size="2.2" text-anchor="middle" font-family="'Liberation Sans',sans-serif" fill="#555">15900</text>
<text x="499.1" y="269" font-size="2.2" text-anchor="middle" font-family="'Liberation Sans',sans-serif" fill="#555">16000</text>
<text x="508.1" y="269" font-size="2.2" text-anchor="middle" font-family="'Liberation Sans',sans-serif" fill="#555">16100</text>
<text x="517.1" y="269" font-size="2.2" text-anchor="middle" font-family="'Liberation Sans',sans-serif" fill="#555">16200</text>
<text x="526.1" y="269" font-size="2.2" text-anchor="middle" font-family="'Liberation Sans',sans-serif" fill="#555">16300</text>
<text x="499.1" y="271.4" font-size="2.4" text-anchor="middle" font-family="'Liberation Sans',sans-serif" fill="#555">Time (s)</text>
<text transform="translate(467.9 242.9) rotate(-90)" x="0" y="0" font-size="2.3" text-anchor="middle" font-family="'Liberation Sans',sans-serif" fill="#555">Potential (V vs. Ag/AgCl)</text>
<text x="427.6" y="281" font-size="7.0" text-anchor="middle" font-family="'Liberation Serif',serif" font-weight="bold" fill="#111" textLength="30.8" lengthAdjust="spacingAndGlyphs" stroke="#111" stroke-width="0.3" stroke-linejoin="round">1<tspan font-size="4.2" dy="-2.6">st</tspan><tspan dy="2.6"> 20 cycles</tspan></text>
<text x="498.2" y="281.7" font-size="7.0" text-anchor="middle" font-family="'Liberation Serif',serif" font-weight="bold" fill="#111" textLength="37.3" lengthAdjust="spacingAndGlyphs" stroke="#111" stroke-width="0.3" stroke-linejoin="round">Last 20 cycles</text>
<rect x="383.7" y="175.2" width="153.1" height="132.3" fill="none" stroke="#222" stroke-width="1.3"/>
<line x1="383.7" y1="307.5" x2="383.7" y2="309.7" stroke="#222" stroke-width="1.0"/>
<text x="383.7" y="317.1" font-size="5.5" text-anchor="middle" font-family="'Liberation Serif',serif" font-weight="normal" fill="#111" stroke="#111" stroke-width="0.27" stroke-linejoin="round">0</text>
<line x1="414.32" y1="307.5" x2="414.32" y2="309.7" stroke="#222" stroke-width="1.0"/>
<text x="414.32" y="317.1" font-size="5.5" text-anchor="middle" font-family="'Liberation Serif',serif" font-weight="normal" fill="#111" stroke="#111" stroke-width="0.27" stroke-linejoin="round">400</text>
<line x1="444.94" y1="307.5" x2="444.94" y2="309.7" stroke="#222" stroke-width="1.0"/>
<text x="444.94" y="317.1" font-size="5.5" text-anchor="middle" font-family="'Liberation Serif',serif" font-weight="normal" fill="#111" stroke="#111" stroke-width="0.27" stroke-linejoin="round">800</text>
<line x1="475.56" y1="307.5" x2="475.56" y2="309.7" stroke="#222" stroke-width="1.0"/>
<text x="475.56" y="317.1" font-size="5.5" text-anchor="middle" font-family="'Liberation Serif',serif" font-weight="normal" fill="#111" stroke="#111" stroke-width="0.27" stroke-linejoin="round">1200</text>
<line x1="506.18" y1="307.5" x2="506.18" y2="309.7" stroke="#222" stroke-width="1.0"/>
<text x="506.18" y="317.1" font-size="5.5" text-anchor="middle" font-family="'Liberation Serif',serif" font-weight="normal" fill="#111" stroke="#111" stroke-width="0.27" stroke-linejoin="round">1600</text>
<line x1="536.8" y1="307.5" x2="536.8" y2="309.7" stroke="#222" stroke-width="1.0"/>
<text x="536.8" y="317.1" font-size="5.5" text-anchor="middle" font-family="'Liberation Serif',serif" font-weight="normal" fill="#111" stroke="#111" stroke-width="0.27" stroke-linejoin="round">2000</text>
<line x1="381.2" y1="307.3" x2="383.7" y2="307.3" stroke="#222" stroke-width="1.0"/>
<text x="379.6" y="309.1" font-size="5.0" text-anchor="end" font-family="'Liberation Serif',serif" font-weight="normal" fill="#111" stroke="#111" stroke-width="0.25" stroke-linejoin="round">0</text>
<line x1="381.2" y1="282.06" x2="383.7" y2="282.06" stroke="#222" stroke-width="1.0"/>
<text x="379.6" y="283.86" font-size="5.0" text-anchor="end" font-family="'Liberation Serif',serif" font-weight="normal" fill="#111" stroke="#111" stroke-width="0.25" stroke-linejoin="round">20</text>
<line x1="381.2" y1="256.82" x2="383.7" y2="256.82" stroke="#222" stroke-width="1.0"/>
<text x="379.6" y="258.62" font-size="5.0" text-anchor="end" font-family="'Liberation Serif',serif" font-weight="normal" fill="#111" stroke="#111" stroke-width="0.25" stroke-linejoin="round">40</text>
<line x1="381.2" y1="231.58" x2="383.7" y2="231.58" stroke="#222" stroke-width="1.0"/>
<text x="379.6" y="233.38" font-size="5.0" text-anchor="end" font-family="'Liberation Serif',serif" font-weight="normal" fill="#111" stroke="#111" stroke-width="0.25" stroke-linejoin="round">60</text>
<line x1="381.2" y1="206.34" x2="383.7" y2="206.34" stroke="#222" stroke-width="1.0"/>
<text x="379.6" y="208.14" font-size="5.0" text-anchor="end" font-family="'Liberation Serif',serif" font-weight="normal" fill="#111" stroke="#111" stroke-width="0.25" stroke-linejoin="round">80</text>
<line x1="381.2" y1="181.1" x2="383.7" y2="181.1" stroke="#222" stroke-width="1.0"/>
<text x="379.6" y="182.9" font-size="5.0" text-anchor="end" font-family="'Liberation Serif',serif" font-weight="normal" fill="#111" stroke="#111" stroke-width="0.25" stroke-linejoin="round">100</text>
<text x="0" y="0" font-size="8.1" text-anchor="middle" font-family="'Liberation Serif',serif" font-weight="bold" fill="#111" transform="translate(372 241) rotate(-90)" stroke="#111" stroke-width="0.35" stroke-linejoin="round">Capacitance Retaintion (%)</text>
<text x="462.2" y="325.8" font-size="7.7" text-anchor="middle" font-family="'Liberation Serif',serif" font-weight="bold" fill="#111" stroke="#111" stroke-width="0.33" stroke-linejoin="round">No. of Cycles</text>
<text x="391" y="197.8" font-size="7.0" text-anchor="middle" font-family="'Liberation Sans',sans-serif" font-weight="bold" fill="#111" stroke="#111" stroke-width="0.18" stroke-linejoin="round">(f)</text>
<polygon points="383.7,179.35 384.16,180.46 385.36,180.56 384.45,181.34 384.73,182.52 383.7,181.89 382.67,182.52 382.95,181.34 382.04,180.56 383.24,180.46" fill="#ff0a0a"/>
<polygon points="391.36,180.65 391.82,181.76 393.02,181.86 392.1,182.64 392.38,183.82 391.36,183.19 390.33,183.82 390.61,182.64 389.69,181.86 390.89,181.76" fill="#ff0a0a"/>
<polygon points="399.01,182.05 399.47,183.16 400.67,183.26 399.76,184.04 400.04,185.22 399.01,184.59 397.98,185.22 398.26,184.04 397.35,183.26 398.55,183.16" fill="#ff0a0a"/>
<polygon points="406.66,182.05 407.13,183.16 408.33,183.26 407.41,184.04 407.69,185.22 406.66,184.59 405.64,185.22 405.92,184.04 405,183.26 406.2,183.16" fill="#ff0a0a"/>
<polygon points="414.32,180.75 414.78,181.86 415.98,181.96 415.07,182.74 415.35,183.92 414.32,183.29 413.29,183.92 413.57,182.74 412.66,181.96 413.86,181.86" fill="#ff0a0a"/>
<polygon points="421.98,180.75 422.44,181.86 423.64,181.96 422.72,182.74 423,183.92 421.98,183.29 420.95,183.92 421.23,182.74 420.31,181.96 421.51,181.86" fill="#ff0a0a"/>
<polygon points="429.63,182.05 430.09,183.16 431.29,183.26 430.38,184.04 430.66,185.22 429.63,184.59 428.6,185.22 428.88,184.04 427.97,183.26 429.17,183.16" fill="#ff0a0a"/>
<polygon points="437.28,182.05 437.75,183.16 438.95,183.26 438.03,184.04 438.31,185.22 437.28,184.59 436.26,185.22 436.54,184.04 435.62,183.26 436.82,183.16" fill="#ff0a0a"/>
<polygon points="444.94,183.25 445.4,184.36 446.6,184.46 445.69,185.24 445.97,186.42 444.94,185.79 443.91,186.42 444.19,185.24 443.28,184.46 444.48,184.36" fill="#ff0a0a"/>
<polygon points="452.6,184.15 453.06,185.26 454.26,185.36 453.34,186.14 453.62,187.32 452.6,186.69 451.57,187.32 451.85,186.14 450.93,185.36 452.13,185.26" fill="#ff0a0a"/>
<polygon points="460.25,183.25 460.71,184.36 461.91,184.46 461,185.24 461.28,186.42 460.25,185.79 459.22,186.42 459.5,185.24 458.59,184.46 459.79,184.36" fill="#ff0a0a"/>
<polygon points="467.9,183.25 468.37,184.36 469.57,184.46 468.65,185.24 468.93,186.42 467.9,185.79 466.88,186.42 467.16,185.24 466.24,184.46 467.44,184.36" fill="#ff0a0a"/>
<polygon points="475.56,183.25 476.02,184.36 477.22,184.46 476.31,185.24 476.59,186.42 475.56,185.79 474.53,186.42 474.81,185.24 473.9,184.46 475.1,184.36" fill="#ff0a0a"/>
<polygon points="483.22,184.45 483.68,185.56 484.88,185.66 483.96,186.44 484.24,187.62 483.22,186.99 482.19,187.62 482.47,186.44 481.55,185.66 482.75,185.56" fill="#ff0a0a"/>
<polygon points="490.87,184.45 491.33,185.56 492.53,185.66 491.62,186.44 491.9,187.62 490.87,186.99 489.84,187.62 490.12,186.44 489.21,185.66 490.41,185.56" fill="#ff0a0a"/>
<polygon points="498.52,186.05 498.99,187.16 500.19,187.26 499.27,188.04 499.55,189.22 498.52,188.59 497.5,189.22 497.78,188.04 496.86,187.26 498.06,187.16" fill="#ff0a0a"/>
<polygon points="506.18,186.05 506.64,187.16 507.84,187.26 506.93,188.04 507.21,189.22 506.18,188.59 505.15,189.22 505.43,188.04 504.52,187.26 505.72,187.16" fill="#ff0a0a"/>
<polygon points="513.84,187.25 514.3,188.36 515.5,188.46 514.58,189.24 514.86,190.42 513.84,189.79 512.81,190.42 513.09,189.24 512.17,188.46 513.37,188.36" fill="#ff0a0a"/>
<polygon points="521.49,187.25 521.95,188.36 523.15,188.46 522.24,189.24 522.52,190.42 521.49,189.79 520.46,190.42 520.74,189.24 519.83,188.46 521.03,188.36" fill="#ff0a0a"/>
<polygon points="529.14,187.25 529.61,188.36 530.81,188.46 529.89,189.24 530.17,190.42 529.14,189.79 528.12,190.42 528.4,189.24 527.48,188.46 528.68,188.36" fill="#ff0a0a"/>
<polygon points="536.8,187.15 537.26,188.26 538.46,188.36 537.55,189.14 537.83,190.32 536.8,189.69 535.77,190.32 536.05,189.14 535.14,188.36 536.34,188.26" fill="#ff0a0a"/>
<text x="514.4" y="200.9" font-size="7.5" text-anchor="middle" font-family="'Liberation Serif',serif" font-weight="bold" fill="#111" textLength="12.6" lengthAdjust="spacingAndGlyphs" stroke="#111" stroke-width="0.32" stroke-linejoin="round">94%</text>
<line x1="523.1" y1="197.5" x2="530.5" y2="192.7" stroke="#111" stroke-width="1.0"/>
<polygon points="535.8,189.4 529.0,191.0 531.4,194.6" fill="#111"/>
</svg>
</body></html>
